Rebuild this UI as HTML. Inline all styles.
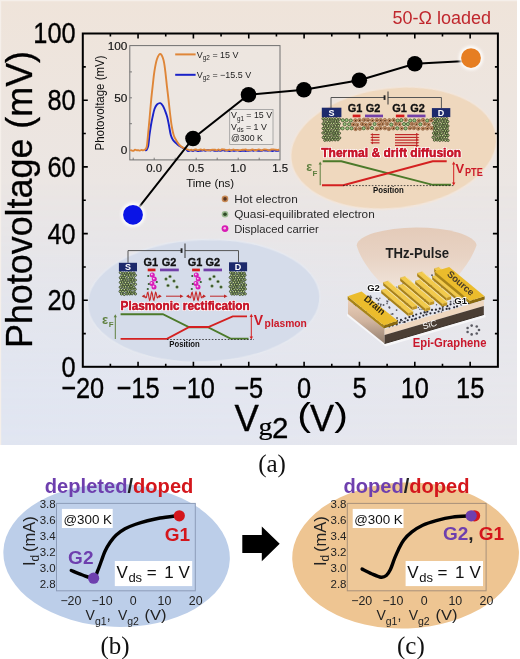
<!DOCTYPE html>
<html><head><meta charset="utf-8"><title>Figure</title>
<style>html,body{margin:0;padding:0;background:#fff;}svg{display:block;}</style></head>
<body><svg width="520" height="659" viewBox="0 0 520 659">
<rect width="520" height="659" fill="#fff"/>
<defs>
<linearGradient id="bgA" x1="0" y1="0" x2="0" y2="1">
 <stop offset="0" stop-color="#efe4da"/><stop offset="0.45" stop-color="#ebe6e4"/><stop offset="1" stop-color="#e3e7f1"/>
</linearGradient>
<radialGradient id="tanE" cx="0.5" cy="0.5" r="0.5">
 <stop offset="0" stop-color="#edd5b9"/><stop offset="0.8" stop-color="#eed8bf"/><stop offset="1" stop-color="#efdfcf"/>
</radialGradient>
<radialGradient id="bluE" cx="0.5" cy="0.5" r="0.5">
 <stop offset="0" stop-color="#d1daea"/><stop offset="0.85" stop-color="#d4dcea"/><stop offset="1" stop-color="#dde1ec"/>
</radialGradient>
<linearGradient id="cone" x1="0" y1="0" x2="0" y2="1">
 <stop offset="0" stop-color="#e4d0c2"/><stop offset="1" stop-color="#ead8ca"/>
</linearGradient>
<linearGradient id="gold" x1="0" y1="0" x2="1" y2="1">
 <stop offset="0" stop-color="#f0cc40"/><stop offset="1" stop-color="#d9a820"/>
</linearGradient>
<filter id="blur1" x="-10%" y="-10%" width="120%" height="120%"><feGaussianBlur stdDeviation="1.5"/></filter>
<filter id="blur05" x="-10%" y="-10%" width="120%" height="120%"><feGaussianBlur stdDeviation="0.6"/></filter>
<filter id="halo" x="-50%" y="-50%" width="200%" height="200%"><feGaussianBlur stdDeviation="1.5"/></filter>
</defs>
<linearGradient id="hB" x1="0" y1="0" x2="1" y2="0"><stop offset="0" stop-color="#e0e5f1"/><stop offset="0.45" stop-color="#e3e6f0"/><stop offset="1" stop-color="#e8e7eb"/></linearGradient>
<linearGradient id="vM" x1="0" y1="0" x2="0" y2="1"><stop offset="0" stop-color="#000"/><stop offset="1" stop-color="#fff"/></linearGradient>
<mask id="mB"><rect x="0" y="180" width="517" height="265" fill="url(#vM)"/></mask>
<rect x="0" y="0" width="517" height="445" fill="url(#bgA)"/>
<rect x="0" y="180" width="517" height="265" fill="url(#hB)" mask="url(#mB)"/>
<path d="M0.6 445 V0.6 H517" fill="none" stroke="#f5efea" stroke-width="1.2"/>
<ellipse cx="393.7" cy="148.1" rx="103.5" ry="60.3" transform="rotate(-6.7 393.7 148.1)" fill="#efd8be" stroke="#f2e6dc" stroke-width="1.5" filter="url(#blur05)"/>
<ellipse cx="203.8" cy="300.7" rx="116.3" ry="61.3" transform="rotate(-2.1 203.8 300.7)" fill="#d5dcea" stroke="#e6e9f0" stroke-width="1.5" filter="url(#blur05)"/>
<path d="M331 108 V97.5 H384 M388 97.5 H441.4 V108.1" fill="none" stroke="#555" stroke-width="1"/>
<rect x="383.6" y="95.3" width="1.9" height="4.6" fill="#222"/>
<line x1="388" y1="91.5" x2="388" y2="104.5" stroke="#333" stroke-width="1"/>
<circle cx="323.08" cy="118.66" r="1.15" fill="#c2d890" stroke="#1e2e12" stroke-width="0.75"/>
<circle cx="326.01" cy="118.6" r="1.15" fill="#c2d890" stroke="#1e2e12" stroke-width="0.75"/>
<circle cx="328.63" cy="118.81" r="1.15" fill="#c2d890" stroke="#1e2e12" stroke-width="0.75"/>
<circle cx="330.99" cy="118.91" r="1.15" fill="#c2d890" stroke="#1e2e12" stroke-width="0.75"/>
<circle cx="333.68" cy="118.85" r="1.15" fill="#c2d890" stroke="#1e2e12" stroke-width="0.75"/>
<circle cx="336.4" cy="118.61" r="1.15" fill="#c2d890" stroke="#1e2e12" stroke-width="0.75"/>
<circle cx="339.35" cy="119.13" r="1.15" fill="#c2d890" stroke="#1e2e12" stroke-width="0.75"/>
<circle cx="324.29" cy="121.06" r="1.15" fill="#c2d890" stroke="#1e2e12" stroke-width="0.75"/>
<circle cx="327.34" cy="121.56" r="1.15" fill="#c2d890" stroke="#1e2e12" stroke-width="0.75"/>
<circle cx="330" cy="121.18" r="1.15" fill="#c2d890" stroke="#1e2e12" stroke-width="0.75"/>
<circle cx="332.98" cy="120.93" r="1.15" fill="#c2d890" stroke="#1e2e12" stroke-width="0.75"/>
<circle cx="335.6" cy="121.1" r="1.15" fill="#c2d890" stroke="#1e2e12" stroke-width="0.75"/>
<circle cx="337.8" cy="120.98" r="1.15" fill="#c2d890" stroke="#1e2e12" stroke-width="0.75"/>
<circle cx="323.07" cy="123.82" r="1.15" fill="#c2d890" stroke="#1e2e12" stroke-width="0.75"/>
<circle cx="325.68" cy="123.66" r="1.15" fill="#c2d890" stroke="#1e2e12" stroke-width="0.75"/>
<circle cx="328.7" cy="123.51" r="1.15" fill="#c2d890" stroke="#1e2e12" stroke-width="0.75"/>
<circle cx="331.33" cy="123.29" r="1.15" fill="#c2d890" stroke="#1e2e12" stroke-width="0.75"/>
<circle cx="333.69" cy="123.39" r="1.15" fill="#c2d890" stroke="#1e2e12" stroke-width="0.75"/>
<circle cx="336.83" cy="123.55" r="1.15" fill="#c2d890" stroke="#1e2e12" stroke-width="0.75"/>
<circle cx="339.27" cy="123.66" r="1.15" fill="#c2d890" stroke="#1e2e12" stroke-width="0.75"/>
<circle cx="324.52" cy="125.81" r="1.15" fill="#c2d890" stroke="#1e2e12" stroke-width="0.75"/>
<circle cx="327.46" cy="126.09" r="1.15" fill="#c2d890" stroke="#1e2e12" stroke-width="0.75"/>
<circle cx="329.77" cy="126" r="1.15" fill="#c2d890" stroke="#1e2e12" stroke-width="0.75"/>
<circle cx="332.67" cy="126.21" r="1.15" fill="#c2d890" stroke="#1e2e12" stroke-width="0.75"/>
<circle cx="335.51" cy="125.8" r="1.15" fill="#c2d890" stroke="#1e2e12" stroke-width="0.75"/>
<circle cx="338.39" cy="125.68" r="1.15" fill="#c2d890" stroke="#1e2e12" stroke-width="0.75"/>
<circle cx="323.14" cy="128.48" r="1.15" fill="#c2d890" stroke="#1e2e12" stroke-width="0.75"/>
<circle cx="325.66" cy="128.29" r="1.15" fill="#c2d890" stroke="#1e2e12" stroke-width="0.75"/>
<circle cx="328.28" cy="128.41" r="1.15" fill="#c2d890" stroke="#1e2e12" stroke-width="0.75"/>
<circle cx="331.49" cy="128.35" r="1.15" fill="#c2d890" stroke="#1e2e12" stroke-width="0.75"/>
<circle cx="334.26" cy="128.17" r="1.15" fill="#c2d890" stroke="#1e2e12" stroke-width="0.75"/>
<circle cx="336.84" cy="128.36" r="1.15" fill="#c2d890" stroke="#1e2e12" stroke-width="0.75"/>
<circle cx="339.46" cy="128.27" r="1.15" fill="#c2d890" stroke="#1e2e12" stroke-width="0.75"/>
<circle cx="324.79" cy="130.96" r="1.15" fill="#c2d890" stroke="#1e2e12" stroke-width="0.75"/>
<circle cx="327.23" cy="130.76" r="1.15" fill="#c2d890" stroke="#1e2e12" stroke-width="0.75"/>
<circle cx="329.64" cy="130.79" r="1.15" fill="#c2d890" stroke="#1e2e12" stroke-width="0.75"/>
<circle cx="332.75" cy="130.99" r="1.15" fill="#c2d890" stroke="#1e2e12" stroke-width="0.75"/>
<circle cx="335.58" cy="130.49" r="1.15" fill="#c2d890" stroke="#1e2e12" stroke-width="0.75"/>
<circle cx="337.97" cy="130.76" r="1.15" fill="#c2d890" stroke="#1e2e12" stroke-width="0.75"/>
<circle cx="322.87" cy="132.97" r="1.15" fill="#c2d890" stroke="#1e2e12" stroke-width="0.75"/>
<circle cx="325.67" cy="132.73" r="1.15" fill="#c2d890" stroke="#1e2e12" stroke-width="0.75"/>
<circle cx="328.29" cy="133.18" r="1.15" fill="#c2d890" stroke="#1e2e12" stroke-width="0.75"/>
<circle cx="331.04" cy="132.82" r="1.15" fill="#c2d890" stroke="#1e2e12" stroke-width="0.75"/>
<circle cx="333.92" cy="133.25" r="1.15" fill="#c2d890" stroke="#1e2e12" stroke-width="0.75"/>
<circle cx="336.41" cy="132.96" r="1.15" fill="#c2d890" stroke="#1e2e12" stroke-width="0.75"/>
<circle cx="339.43" cy="133.26" r="1.15" fill="#c2d890" stroke="#1e2e12" stroke-width="0.75"/>
<circle cx="324.77" cy="135.6" r="1.15" fill="#c2d890" stroke="#1e2e12" stroke-width="0.75"/>
<circle cx="327.09" cy="135.28" r="1.15" fill="#c2d890" stroke="#1e2e12" stroke-width="0.75"/>
<circle cx="329.85" cy="135.61" r="1.15" fill="#c2d890" stroke="#1e2e12" stroke-width="0.75"/>
<circle cx="332.97" cy="135.1" r="1.15" fill="#c2d890" stroke="#1e2e12" stroke-width="0.75"/>
<circle cx="335.12" cy="135.16" r="1.15" fill="#c2d890" stroke="#1e2e12" stroke-width="0.75"/>
<circle cx="337.86" cy="135.33" r="1.15" fill="#c2d890" stroke="#1e2e12" stroke-width="0.75"/>
<circle cx="323.26" cy="137.53" r="1.15" fill="#c2d890" stroke="#1e2e12" stroke-width="0.75"/>
<circle cx="325.55" cy="137.64" r="1.15" fill="#c2d890" stroke="#1e2e12" stroke-width="0.75"/>
<circle cx="328.51" cy="137.74" r="1.15" fill="#c2d890" stroke="#1e2e12" stroke-width="0.75"/>
<circle cx="331.62" cy="137.83" r="1.15" fill="#c2d890" stroke="#1e2e12" stroke-width="0.75"/>
<circle cx="334.01" cy="137.77" r="1.15" fill="#c2d890" stroke="#1e2e12" stroke-width="0.75"/>
<circle cx="336.82" cy="137.38" r="1.15" fill="#c2d890" stroke="#1e2e12" stroke-width="0.75"/>
<circle cx="339.68" cy="137.89" r="1.15" fill="#c2d890" stroke="#1e2e12" stroke-width="0.75"/>
<circle cx="324.81" cy="140.25" r="1.15" fill="#c2d890" stroke="#1e2e12" stroke-width="0.75"/>
<circle cx="327.17" cy="139.97" r="1.15" fill="#c2d890" stroke="#1e2e12" stroke-width="0.75"/>
<circle cx="329.67" cy="140.14" r="1.15" fill="#c2d890" stroke="#1e2e12" stroke-width="0.75"/>
<circle cx="332.34" cy="139.74" r="1.15" fill="#c2d890" stroke="#1e2e12" stroke-width="0.75"/>
<circle cx="335.15" cy="139.8" r="1.15" fill="#c2d890" stroke="#1e2e12" stroke-width="0.75"/>
<circle cx="337.94" cy="139.73" r="1.15" fill="#c2d890" stroke="#1e2e12" stroke-width="0.75"/>
<circle cx="432.95" cy="118.66" r="1.15" fill="#c2d890" stroke="#1e2e12" stroke-width="0.75"/>
<circle cx="435.72" cy="118.8" r="1.15" fill="#c2d890" stroke="#1e2e12" stroke-width="0.75"/>
<circle cx="438.37" cy="119.16" r="1.15" fill="#c2d890" stroke="#1e2e12" stroke-width="0.75"/>
<circle cx="441.48" cy="118.65" r="1.15" fill="#c2d890" stroke="#1e2e12" stroke-width="0.75"/>
<circle cx="443.93" cy="118.79" r="1.15" fill="#c2d890" stroke="#1e2e12" stroke-width="0.75"/>
<circle cx="446.7" cy="118.64" r="1.15" fill="#c2d890" stroke="#1e2e12" stroke-width="0.75"/>
<circle cx="434.89" cy="121.59" r="1.15" fill="#c2d890" stroke="#1e2e12" stroke-width="0.75"/>
<circle cx="437.33" cy="121.24" r="1.15" fill="#c2d890" stroke="#1e2e12" stroke-width="0.75"/>
<circle cx="439.76" cy="120.97" r="1.15" fill="#c2d890" stroke="#1e2e12" stroke-width="0.75"/>
<circle cx="442.64" cy="121.08" r="1.15" fill="#c2d890" stroke="#1e2e12" stroke-width="0.75"/>
<circle cx="445.68" cy="121.01" r="1.15" fill="#c2d890" stroke="#1e2e12" stroke-width="0.75"/>
<circle cx="447.82" cy="121.56" r="1.15" fill="#c2d890" stroke="#1e2e12" stroke-width="0.75"/>
<circle cx="433.32" cy="123.35" r="1.15" fill="#c2d890" stroke="#1e2e12" stroke-width="0.75"/>
<circle cx="436.03" cy="123.27" r="1.15" fill="#c2d890" stroke="#1e2e12" stroke-width="0.75"/>
<circle cx="438.72" cy="123.93" r="1.15" fill="#c2d890" stroke="#1e2e12" stroke-width="0.75"/>
<circle cx="441.65" cy="123.74" r="1.15" fill="#c2d890" stroke="#1e2e12" stroke-width="0.75"/>
<circle cx="443.93" cy="123.5" r="1.15" fill="#c2d890" stroke="#1e2e12" stroke-width="0.75"/>
<circle cx="446.57" cy="123.79" r="1.15" fill="#c2d890" stroke="#1e2e12" stroke-width="0.75"/>
<circle cx="434.67" cy="126.14" r="1.15" fill="#c2d890" stroke="#1e2e12" stroke-width="0.75"/>
<circle cx="437.23" cy="125.75" r="1.15" fill="#c2d890" stroke="#1e2e12" stroke-width="0.75"/>
<circle cx="440.27" cy="126.29" r="1.15" fill="#c2d890" stroke="#1e2e12" stroke-width="0.75"/>
<circle cx="443" cy="126.16" r="1.15" fill="#c2d890" stroke="#1e2e12" stroke-width="0.75"/>
<circle cx="445.67" cy="126.11" r="1.15" fill="#c2d890" stroke="#1e2e12" stroke-width="0.75"/>
<circle cx="447.96" cy="125.96" r="1.15" fill="#c2d890" stroke="#1e2e12" stroke-width="0.75"/>
<circle cx="433.2" cy="127.97" r="1.15" fill="#c2d890" stroke="#1e2e12" stroke-width="0.75"/>
<circle cx="435.67" cy="128.14" r="1.15" fill="#c2d890" stroke="#1e2e12" stroke-width="0.75"/>
<circle cx="438.53" cy="128.43" r="1.15" fill="#c2d890" stroke="#1e2e12" stroke-width="0.75"/>
<circle cx="441.72" cy="128.26" r="1.15" fill="#c2d890" stroke="#1e2e12" stroke-width="0.75"/>
<circle cx="444.41" cy="128.64" r="1.15" fill="#c2d890" stroke="#1e2e12" stroke-width="0.75"/>
<circle cx="447.12" cy="128.2" r="1.15" fill="#c2d890" stroke="#1e2e12" stroke-width="0.75"/>
<circle cx="434.45" cy="130.45" r="1.15" fill="#c2d890" stroke="#1e2e12" stroke-width="0.75"/>
<circle cx="437.14" cy="130.44" r="1.15" fill="#c2d890" stroke="#1e2e12" stroke-width="0.75"/>
<circle cx="440.14" cy="130.93" r="1.15" fill="#c2d890" stroke="#1e2e12" stroke-width="0.75"/>
<circle cx="442.99" cy="130.63" r="1.15" fill="#c2d890" stroke="#1e2e12" stroke-width="0.75"/>
<circle cx="445.56" cy="130.85" r="1.15" fill="#c2d890" stroke="#1e2e12" stroke-width="0.75"/>
<circle cx="447.86" cy="130.76" r="1.15" fill="#c2d890" stroke="#1e2e12" stroke-width="0.75"/>
<circle cx="433.59" cy="133.19" r="1.15" fill="#c2d890" stroke="#1e2e12" stroke-width="0.75"/>
<circle cx="436.18" cy="132.98" r="1.15" fill="#c2d890" stroke="#1e2e12" stroke-width="0.75"/>
<circle cx="438.47" cy="133.2" r="1.15" fill="#c2d890" stroke="#1e2e12" stroke-width="0.75"/>
<circle cx="441.28" cy="133.2" r="1.15" fill="#c2d890" stroke="#1e2e12" stroke-width="0.75"/>
<circle cx="444.43" cy="132.92" r="1.15" fill="#c2d890" stroke="#1e2e12" stroke-width="0.75"/>
<circle cx="446.73" cy="133.31" r="1.15" fill="#c2d890" stroke="#1e2e12" stroke-width="0.75"/>
<circle cx="434.81" cy="135.11" r="1.15" fill="#c2d890" stroke="#1e2e12" stroke-width="0.75"/>
<circle cx="437.09" cy="135.1" r="1.15" fill="#c2d890" stroke="#1e2e12" stroke-width="0.75"/>
<circle cx="440.33" cy="135.56" r="1.15" fill="#c2d890" stroke="#1e2e12" stroke-width="0.75"/>
<circle cx="442.5" cy="135.57" r="1.15" fill="#c2d890" stroke="#1e2e12" stroke-width="0.75"/>
<circle cx="445.79" cy="135.45" r="1.15" fill="#c2d890" stroke="#1e2e12" stroke-width="0.75"/>
<circle cx="448.05" cy="135.38" r="1.15" fill="#c2d890" stroke="#1e2e12" stroke-width="0.75"/>
<circle cx="433.04" cy="137.35" r="1.15" fill="#c2d890" stroke="#1e2e12" stroke-width="0.75"/>
<circle cx="436.33" cy="137.8" r="1.15" fill="#c2d890" stroke="#1e2e12" stroke-width="0.75"/>
<circle cx="438.72" cy="138" r="1.15" fill="#c2d890" stroke="#1e2e12" stroke-width="0.75"/>
<circle cx="441.35" cy="137.95" r="1.15" fill="#c2d890" stroke="#1e2e12" stroke-width="0.75"/>
<circle cx="444.33" cy="137.49" r="1.15" fill="#c2d890" stroke="#1e2e12" stroke-width="0.75"/>
<circle cx="446.63" cy="137.55" r="1.15" fill="#c2d890" stroke="#1e2e12" stroke-width="0.75"/>
<circle cx="434.47" cy="140.1" r="1.15" fill="#c2d890" stroke="#1e2e12" stroke-width="0.75"/>
<circle cx="437.18" cy="139.98" r="1.15" fill="#c2d890" stroke="#1e2e12" stroke-width="0.75"/>
<circle cx="439.79" cy="140.33" r="1.15" fill="#c2d890" stroke="#1e2e12" stroke-width="0.75"/>
<circle cx="442.65" cy="140.01" r="1.15" fill="#c2d890" stroke="#1e2e12" stroke-width="0.75"/>
<circle cx="445.51" cy="140.32" r="1.15" fill="#c2d890" stroke="#1e2e12" stroke-width="0.75"/>
<circle cx="448.09" cy="140.33" r="1.15" fill="#c2d890" stroke="#1e2e12" stroke-width="0.75"/>
<circle cx="342.8" cy="120.23" r="1.6" fill="#9cc080" stroke="#2a4a1a" stroke-width="0.7"/>
<circle cx="346.61" cy="120.14" r="1.6" fill="#9cc080" stroke="#2a4a1a" stroke-width="0.7"/>
<circle cx="350.8" cy="120.5" r="1.6" fill="#9cc080" stroke="#2a4a1a" stroke-width="0.7"/>
<circle cx="355.38" cy="120.43" r="1.8" fill="#d9a070" stroke="#7a4a28" stroke-width="0.6"/>
<circle cx="355.58" cy="120.63" r="0.8" fill="#4a2c18"/>
<circle cx="359.46" cy="120.22" r="1.8" fill="#d9a070" stroke="#7a4a28" stroke-width="0.6"/>
<circle cx="359.66" cy="120.42" r="0.8" fill="#4a2c18"/>
<circle cx="364.03" cy="119.81" r="1.8" fill="#d9a070" stroke="#7a4a28" stroke-width="0.6"/>
<circle cx="364.23" cy="120.01" r="0.8" fill="#4a2c18"/>
<circle cx="367.8" cy="119.98" r="1.8" fill="#d9a070" stroke="#7a4a28" stroke-width="0.6"/>
<circle cx="368" cy="120.18" r="0.8" fill="#4a2c18"/>
<circle cx="372.21" cy="120.26" r="1.8" fill="#d9a070" stroke="#7a4a28" stroke-width="0.6"/>
<circle cx="372.41" cy="120.46" r="0.8" fill="#4a2c18"/>
<circle cx="376.73" cy="120.14" r="1.8" fill="#d9a070" stroke="#7a4a28" stroke-width="0.6"/>
<circle cx="376.93" cy="120.34" r="0.8" fill="#4a2c18"/>
<circle cx="380.6" cy="120.21" r="1.8" fill="#d9a070" stroke="#7a4a28" stroke-width="0.6"/>
<circle cx="380.8" cy="120.41" r="0.8" fill="#4a2c18"/>
<circle cx="384.76" cy="120.23" r="1.8" fill="#d9a070" stroke="#7a4a28" stroke-width="0.6"/>
<circle cx="384.96" cy="120.43" r="0.8" fill="#4a2c18"/>
<circle cx="389.35" cy="120.4" r="1.8" fill="#d9a070" stroke="#7a4a28" stroke-width="0.6"/>
<circle cx="389.55" cy="120.6" r="0.8" fill="#4a2c18"/>
<circle cx="393.55" cy="119.96" r="1.8" fill="#d9a070" stroke="#7a4a28" stroke-width="0.6"/>
<circle cx="393.75" cy="120.16" r="0.8" fill="#4a2c18"/>
<circle cx="397.75" cy="120.54" r="1.6" fill="#9cc080" stroke="#2a4a1a" stroke-width="0.7"/>
<circle cx="401.3" cy="120.14" r="1.6" fill="#9cc080" stroke="#2a4a1a" stroke-width="0.7"/>
<circle cx="405.59" cy="119.77" r="1.8" fill="#d9a070" stroke="#7a4a28" stroke-width="0.6"/>
<circle cx="405.79" cy="119.97" r="0.8" fill="#4a2c18"/>
<circle cx="410.23" cy="120.6" r="1.6" fill="#9cc080" stroke="#2a4a1a" stroke-width="0.7"/>
<circle cx="414.37" cy="120.36" r="1.6" fill="#9cc080" stroke="#2a4a1a" stroke-width="0.7"/>
<circle cx="418.71" cy="120.67" r="1.8" fill="#d9a070" stroke="#7a4a28" stroke-width="0.6"/>
<circle cx="418.91" cy="120.87" r="0.8" fill="#4a2c18"/>
<circle cx="422.96" cy="120.1" r="1.8" fill="#d9a070" stroke="#7a4a28" stroke-width="0.6"/>
<circle cx="423.16" cy="120.3" r="0.8" fill="#4a2c18"/>
<circle cx="427.19" cy="120.53" r="1.6" fill="#9cc080" stroke="#2a4a1a" stroke-width="0.7"/>
<circle cx="430.95" cy="120.22" r="1.8" fill="#d9a070" stroke="#7a4a28" stroke-width="0.6"/>
<circle cx="431.15" cy="120.42" r="0.8" fill="#4a2c18"/>
<circle cx="344.66" cy="124.12" r="1.6" fill="#9cc080" stroke="#2a4a1a" stroke-width="0.7"/>
<circle cx="349.14" cy="124.24" r="1.6" fill="#9cc080" stroke="#2a4a1a" stroke-width="0.7"/>
<circle cx="353.17" cy="124.42" r="1.8" fill="#d9a070" stroke="#7a4a28" stroke-width="0.6"/>
<circle cx="353.37" cy="124.62" r="0.8" fill="#4a2c18"/>
<circle cx="357.15" cy="124.79" r="1.8" fill="#d9a070" stroke="#7a4a28" stroke-width="0.6"/>
<circle cx="357.35" cy="124.99" r="0.8" fill="#4a2c18"/>
<circle cx="362.08" cy="123.9" r="1.8" fill="#d9a070" stroke="#7a4a28" stroke-width="0.6"/>
<circle cx="362.28" cy="124.1" r="0.8" fill="#4a2c18"/>
<circle cx="365.53" cy="124.58" r="1.8" fill="#d9a070" stroke="#7a4a28" stroke-width="0.6"/>
<circle cx="365.73" cy="124.78" r="0.8" fill="#4a2c18"/>
<circle cx="369.8" cy="124.22" r="1.8" fill="#d9a070" stroke="#7a4a28" stroke-width="0.6"/>
<circle cx="370" cy="124.42" r="0.8" fill="#4a2c18"/>
<circle cx="374.56" cy="124.06" r="1.6" fill="#9cc080" stroke="#2a4a1a" stroke-width="0.7"/>
<circle cx="378.84" cy="124.37" r="1.8" fill="#d9a070" stroke="#7a4a28" stroke-width="0.6"/>
<circle cx="379.04" cy="124.57" r="0.8" fill="#4a2c18"/>
<circle cx="382.37" cy="123.86" r="1.8" fill="#d9a070" stroke="#7a4a28" stroke-width="0.6"/>
<circle cx="382.57" cy="124.06" r="0.8" fill="#4a2c18"/>
<circle cx="386.84" cy="123.87" r="1.8" fill="#d9a070" stroke="#7a4a28" stroke-width="0.6"/>
<circle cx="387.04" cy="124.07" r="0.8" fill="#4a2c18"/>
<circle cx="391.21" cy="124.6" r="1.6" fill="#9cc080" stroke="#2a4a1a" stroke-width="0.7"/>
<circle cx="395.58" cy="123.87" r="1.8" fill="#d9a070" stroke="#7a4a28" stroke-width="0.6"/>
<circle cx="395.78" cy="124.07" r="0.8" fill="#4a2c18"/>
<circle cx="399.46" cy="124.14" r="1.8" fill="#d9a070" stroke="#7a4a28" stroke-width="0.6"/>
<circle cx="399.66" cy="124.34" r="0.8" fill="#4a2c18"/>
<circle cx="404.04" cy="124.07" r="1.6" fill="#9cc080" stroke="#2a4a1a" stroke-width="0.7"/>
<circle cx="407.92" cy="124.04" r="1.6" fill="#9cc080" stroke="#2a4a1a" stroke-width="0.7"/>
<circle cx="411.83" cy="123.85" r="1.8" fill="#d9a070" stroke="#7a4a28" stroke-width="0.6"/>
<circle cx="412.03" cy="124.05" r="0.8" fill="#4a2c18"/>
<circle cx="416.15" cy="124.11" r="1.8" fill="#d9a070" stroke="#7a4a28" stroke-width="0.6"/>
<circle cx="416.35" cy="124.31" r="0.8" fill="#4a2c18"/>
<circle cx="420.33" cy="124.3" r="1.6" fill="#9cc080" stroke="#2a4a1a" stroke-width="0.7"/>
<circle cx="424.58" cy="123.82" r="1.8" fill="#d9a070" stroke="#7a4a28" stroke-width="0.6"/>
<circle cx="424.78" cy="124.02" r="0.8" fill="#4a2c18"/>
<circle cx="428.51" cy="124.53" r="1.8" fill="#d9a070" stroke="#7a4a28" stroke-width="0.6"/>
<circle cx="428.71" cy="124.73" r="0.8" fill="#4a2c18"/>
<circle cx="342.55" cy="128.37" r="1.6" fill="#9cc080" stroke="#2a4a1a" stroke-width="0.7"/>
<circle cx="347.26" cy="128.33" r="1.6" fill="#9cc080" stroke="#2a4a1a" stroke-width="0.7"/>
<circle cx="351.47" cy="128.29" r="1.6" fill="#9cc080" stroke="#2a4a1a" stroke-width="0.7"/>
<circle cx="355.55" cy="128.88" r="1.8" fill="#d9a070" stroke="#7a4a28" stroke-width="0.6"/>
<circle cx="355.75" cy="129.08" r="0.8" fill="#4a2c18"/>
<circle cx="359.87" cy="128.61" r="1.8" fill="#d9a070" stroke="#7a4a28" stroke-width="0.6"/>
<circle cx="360.07" cy="128.81" r="0.8" fill="#4a2c18"/>
<circle cx="363.72" cy="128.25" r="1.6" fill="#9cc080" stroke="#2a4a1a" stroke-width="0.7"/>
<circle cx="367.7" cy="127.97" r="1.8" fill="#d9a070" stroke="#7a4a28" stroke-width="0.6"/>
<circle cx="367.9" cy="128.17" r="0.8" fill="#4a2c18"/>
<circle cx="372" cy="128.06" r="1.6" fill="#9cc080" stroke="#2a4a1a" stroke-width="0.7"/>
<circle cx="376.67" cy="128.77" r="1.8" fill="#d9a070" stroke="#7a4a28" stroke-width="0.6"/>
<circle cx="376.87" cy="128.97" r="0.8" fill="#4a2c18"/>
<circle cx="380.43" cy="128.14" r="1.8" fill="#d9a070" stroke="#7a4a28" stroke-width="0.6"/>
<circle cx="380.63" cy="128.34" r="0.8" fill="#4a2c18"/>
<circle cx="384.77" cy="128.06" r="1.8" fill="#d9a070" stroke="#7a4a28" stroke-width="0.6"/>
<circle cx="384.97" cy="128.26" r="0.8" fill="#4a2c18"/>
<circle cx="388.81" cy="128.86" r="1.8" fill="#d9a070" stroke="#7a4a28" stroke-width="0.6"/>
<circle cx="389.01" cy="129.06" r="0.8" fill="#4a2c18"/>
<circle cx="393.24" cy="128.14" r="1.8" fill="#d9a070" stroke="#7a4a28" stroke-width="0.6"/>
<circle cx="393.44" cy="128.34" r="0.8" fill="#4a2c18"/>
<circle cx="397.25" cy="128.26" r="1.6" fill="#9cc080" stroke="#2a4a1a" stroke-width="0.7"/>
<circle cx="401.51" cy="128.37" r="1.8" fill="#d9a070" stroke="#7a4a28" stroke-width="0.6"/>
<circle cx="401.71" cy="128.57" r="0.8" fill="#4a2c18"/>
<circle cx="405.56" cy="128.4" r="1.6" fill="#9cc080" stroke="#2a4a1a" stroke-width="0.7"/>
<circle cx="409.81" cy="127.99" r="1.8" fill="#d9a070" stroke="#7a4a28" stroke-width="0.6"/>
<circle cx="410.01" cy="128.19" r="0.8" fill="#4a2c18"/>
<circle cx="413.83" cy="127.92" r="1.8" fill="#d9a070" stroke="#7a4a28" stroke-width="0.6"/>
<circle cx="414.03" cy="128.12" r="0.8" fill="#4a2c18"/>
<circle cx="418.19" cy="128.49" r="1.8" fill="#d9a070" stroke="#7a4a28" stroke-width="0.6"/>
<circle cx="418.39" cy="128.69" r="0.8" fill="#4a2c18"/>
<circle cx="422.8" cy="128.56" r="1.8" fill="#d9a070" stroke="#7a4a28" stroke-width="0.6"/>
<circle cx="423" cy="128.76" r="0.8" fill="#4a2c18"/>
<circle cx="427.1" cy="128.29" r="1.8" fill="#d9a070" stroke="#7a4a28" stroke-width="0.6"/>
<circle cx="427.3" cy="128.49" r="0.8" fill="#4a2c18"/>
<circle cx="431.39" cy="128.05" r="1.8" fill="#d9a070" stroke="#7a4a28" stroke-width="0.6"/>
<circle cx="431.59" cy="128.25" r="0.8" fill="#4a2c18"/>
<rect x="321.8" y="107.7" width="19.6" height="9.5" fill="#1d2a6c"/>
<text x="331.6" y="115.6" font-family="'Liberation Sans',sans-serif" font-size="9" fill="#fff" font-weight="bold" text-anchor="middle" >S</text>
<rect x="431.9" y="108.1" width="18.4" height="9" fill="#1d2a6c"/>
<text x="441.1" y="115.5" font-family="'Liberation Sans',sans-serif" font-size="9" fill="#fff" font-weight="bold" text-anchor="middle" >D</text>
<text x="347.8" y="111.6" font-family="'Liberation Sans',sans-serif" font-size="11" fill="#111" font-weight="bold" text-anchor="start" stroke="#111" stroke-width="0.3" textLength="14.6" lengthAdjust="spacingAndGlyphs">G1</text>
<text x="365.8" y="111.6" font-family="'Liberation Sans',sans-serif" font-size="11" fill="#111" font-weight="bold" text-anchor="start" stroke="#111" stroke-width="0.3" textLength="14.6" lengthAdjust="spacingAndGlyphs">G2</text>
<text x="392.2" y="111.6" font-family="'Liberation Sans',sans-serif" font-size="11" fill="#111" font-weight="bold" text-anchor="start" stroke="#111" stroke-width="0.3" textLength="14.6" lengthAdjust="spacingAndGlyphs">G1</text>
<text x="410.2" y="111.6" font-family="'Liberation Sans',sans-serif" font-size="11" fill="#111" font-weight="bold" text-anchor="start" stroke="#111" stroke-width="0.3" textLength="14.6" lengthAdjust="spacingAndGlyphs">G2</text>
<rect x="352.7" y="114.6" width="7.8" height="2.7" fill="#d41c1c"/>
<rect x="395.9" y="114.6" width="8.5" height="2.7" fill="#d41c1c"/>
<rect x="365" y="114.6" width="18" height="2.7" fill="#7340a8"/>
<rect x="407.3" y="114.6" width="18.2" height="2.7" fill="#7340a8"/>
<line x1="372" y1="134.6" x2="379.5" y2="134.6" stroke="#c02828" stroke-width="1.2"/>
<path d="M373 133.2 L370.2 134.6 L373 136Z" fill="#c02828"/>
<line x1="372" y1="137.4" x2="379.5" y2="137.4" stroke="#c02828" stroke-width="1.2"/>
<path d="M373 136 L370.2 137.4 L373 138.8Z" fill="#c02828"/>
<line x1="372" y1="140.1" x2="379.5" y2="140.1" stroke="#c02828" stroke-width="1.2"/>
<path d="M373 138.7 L370.2 140.1 L373 141.5Z" fill="#c02828"/>
<line x1="372" y1="142.8" x2="379.5" y2="142.8" stroke="#c02828" stroke-width="1.2"/>
<path d="M373 141.4 L370.2 142.8 L373 144.2Z" fill="#c02828"/>
<line x1="395" y1="134.6" x2="417" y2="134.6" stroke="#c02828" stroke-width="1.2"/>
<path d="M416 133.1 L419.5 134.6 L416 136.1Z" fill="#c02828"/>
<line x1="395" y1="137.4" x2="417" y2="137.4" stroke="#c02828" stroke-width="1.2"/>
<path d="M416 135.9 L419.5 137.4 L416 138.9Z" fill="#c02828"/>
<line x1="395" y1="140.1" x2="417" y2="140.1" stroke="#c02828" stroke-width="1.2"/>
<path d="M416 138.6 L419.5 140.1 L416 141.6Z" fill="#c02828"/>
<line x1="395" y1="142.8" x2="417" y2="142.8" stroke="#c02828" stroke-width="1.2"/>
<path d="M416 141.3 L419.5 142.8 L416 144.3Z" fill="#c02828"/>
<line x1="395" y1="145.4" x2="417" y2="145.4" stroke="#c02828" stroke-width="1.2"/>
<path d="M416 143.9 L419.5 145.4 L416 146.9Z" fill="#c02828"/>
<text x="321.2" y="157.3" font-family="'Liberation Sans',sans-serif" font-size="13.2" fill="#c8182c" font-weight="bold" text-anchor="start" stroke="#fff" stroke-width="2.2" paint-order="stroke" stroke-linejoin="round" textLength="140" lengthAdjust="spacingAndGlyphs">Thermal &amp; drift diffusion</text>
<text x="321.2" y="157.3" font-family="'Liberation Sans',sans-serif" font-size="13.2" fill="#c8182c" font-weight="bold" text-anchor="start" stroke="#c8182c" stroke-width="0.35" textLength="140" lengthAdjust="spacingAndGlyphs">Thermal &amp; drift diffusion</text>
<polyline points="322.7,161.3 341.3,161.3 432.7,184.8 451,184.8" fill="none" stroke="#4c7a2a" stroke-width="1.9"/>
<polyline points="322,185.2 343.3,185.2 432.7,161.3 446.7,161.3" fill="none" stroke="#d42020" stroke-width="1.9"/>
<line x1="343" y1="185.6" x2="455" y2="185.6" stroke="#222" stroke-width="0.8" stroke-dasharray="1.6,1.6"/>
<line x1="320.2" y1="185.2" x2="320.2" y2="163.5" stroke="#5f8040" stroke-width="1"/>
<path d="M318.6 164.5 L320.2 161.5 L321.8 164.5Z" fill="#5f8040"/>
<text x="306.2" y="171" font-family="'Liberation Sans',sans-serif" font-size="12.5" fill="#5f8040" font-weight="bold" text-anchor="start" >ε</text>
<text x="312.4" y="175.6" font-family="'Liberation Sans',sans-serif" font-size="8" fill="#5f8040" font-weight="bold" text-anchor="start" >F</text>
<text x="388.4" y="192.6" font-family="'Liberation Sans',sans-serif" font-size="8.6" fill="#111" font-weight="bold" text-anchor="middle" textLength="30.8" lengthAdjust="spacingAndGlyphs">Position</text>
<line x1="453.7" y1="163.5" x2="453.7" y2="183.5" stroke="#d42020" stroke-width="1"/>
<path d="M452 164.5 L453.7 161.5 L455.4 164.5Z M452 182.5 L453.7 185.5 L455.4 182.5Z" fill="#d42020"/>
<text x="455.6" y="172.6" font-family="'Liberation Sans',sans-serif" font-size="13" fill="#cc1a28" font-weight="bold" text-anchor="start" >V</text>
<text x="465" y="175.6" font-family="'Liberation Sans',sans-serif" font-size="10" fill="#cc1a28" font-weight="bold" text-anchor="start" textLength="17.8" lengthAdjust="spacingAndGlyphs">PTE</text>
<path d="M128 262.8 V250.6 H181 M185 250.6 H238.5 V262.3" fill="none" stroke="#555" stroke-width="1"/>
<rect x="180.6" y="248.3" width="1.9" height="4.6" fill="#222"/>
<line x1="185" y1="243.5" x2="185" y2="258" stroke="#333" stroke-width="1"/>
<circle cx="120.4" cy="272.58" r="1.15" fill="#c2d890" stroke="#1e2e12" stroke-width="0.75"/>
<circle cx="123.23" cy="273.17" r="1.15" fill="#c2d890" stroke="#1e2e12" stroke-width="0.75"/>
<circle cx="125.79" cy="273.06" r="1.15" fill="#c2d890" stroke="#1e2e12" stroke-width="0.75"/>
<circle cx="128.62" cy="272.65" r="1.15" fill="#c2d890" stroke="#1e2e12" stroke-width="0.75"/>
<circle cx="131.12" cy="272.9" r="1.15" fill="#c2d890" stroke="#1e2e12" stroke-width="0.75"/>
<circle cx="134.03" cy="273.11" r="1.15" fill="#c2d890" stroke="#1e2e12" stroke-width="0.75"/>
<circle cx="121.88" cy="275.31" r="1.15" fill="#c2d890" stroke="#1e2e12" stroke-width="0.75"/>
<circle cx="124.62" cy="275.38" r="1.15" fill="#c2d890" stroke="#1e2e12" stroke-width="0.75"/>
<circle cx="127.19" cy="275.06" r="1.15" fill="#c2d890" stroke="#1e2e12" stroke-width="0.75"/>
<circle cx="129.42" cy="274.99" r="1.15" fill="#c2d890" stroke="#1e2e12" stroke-width="0.75"/>
<circle cx="132.35" cy="274.97" r="1.15" fill="#c2d890" stroke="#1e2e12" stroke-width="0.75"/>
<circle cx="135.39" cy="275.29" r="1.15" fill="#c2d890" stroke="#1e2e12" stroke-width="0.75"/>
<circle cx="120.39" cy="277.69" r="1.15" fill="#c2d890" stroke="#1e2e12" stroke-width="0.75"/>
<circle cx="123.13" cy="277.59" r="1.15" fill="#c2d890" stroke="#1e2e12" stroke-width="0.75"/>
<circle cx="125.35" cy="277.81" r="1.15" fill="#c2d890" stroke="#1e2e12" stroke-width="0.75"/>
<circle cx="128.57" cy="277.6" r="1.15" fill="#c2d890" stroke="#1e2e12" stroke-width="0.75"/>
<circle cx="131.12" cy="277.71" r="1.15" fill="#c2d890" stroke="#1e2e12" stroke-width="0.75"/>
<circle cx="133.5" cy="277.76" r="1.15" fill="#c2d890" stroke="#1e2e12" stroke-width="0.75"/>
<circle cx="121.48" cy="279.65" r="1.15" fill="#c2d890" stroke="#1e2e12" stroke-width="0.75"/>
<circle cx="124.19" cy="280.11" r="1.15" fill="#c2d890" stroke="#1e2e12" stroke-width="0.75"/>
<circle cx="126.84" cy="280.11" r="1.15" fill="#c2d890" stroke="#1e2e12" stroke-width="0.75"/>
<circle cx="130.08" cy="279.94" r="1.15" fill="#c2d890" stroke="#1e2e12" stroke-width="0.75"/>
<circle cx="132.37" cy="279.93" r="1.15" fill="#c2d890" stroke="#1e2e12" stroke-width="0.75"/>
<circle cx="135.28" cy="280.13" r="1.15" fill="#c2d890" stroke="#1e2e12" stroke-width="0.75"/>
<circle cx="120.38" cy="282.4" r="1.15" fill="#c2d890" stroke="#1e2e12" stroke-width="0.75"/>
<circle cx="122.7" cy="282.05" r="1.15" fill="#c2d890" stroke="#1e2e12" stroke-width="0.75"/>
<circle cx="125.53" cy="282.47" r="1.15" fill="#c2d890" stroke="#1e2e12" stroke-width="0.75"/>
<circle cx="128.26" cy="282.34" r="1.15" fill="#c2d890" stroke="#1e2e12" stroke-width="0.75"/>
<circle cx="130.76" cy="281.99" r="1.15" fill="#c2d890" stroke="#1e2e12" stroke-width="0.75"/>
<circle cx="133.64" cy="282.42" r="1.15" fill="#c2d890" stroke="#1e2e12" stroke-width="0.75"/>
<circle cx="121.78" cy="284.77" r="1.15" fill="#c2d890" stroke="#1e2e12" stroke-width="0.75"/>
<circle cx="124.2" cy="284.66" r="1.15" fill="#c2d890" stroke="#1e2e12" stroke-width="0.75"/>
<circle cx="127.03" cy="284.62" r="1.15" fill="#c2d890" stroke="#1e2e12" stroke-width="0.75"/>
<circle cx="129.48" cy="284.92" r="1.15" fill="#c2d890" stroke="#1e2e12" stroke-width="0.75"/>
<circle cx="132.24" cy="284.98" r="1.15" fill="#c2d890" stroke="#1e2e12" stroke-width="0.75"/>
<circle cx="135.46" cy="284.31" r="1.15" fill="#c2d890" stroke="#1e2e12" stroke-width="0.75"/>
<circle cx="120.27" cy="287.22" r="1.15" fill="#c2d890" stroke="#1e2e12" stroke-width="0.75"/>
<circle cx="123.33" cy="286.96" r="1.15" fill="#c2d890" stroke="#1e2e12" stroke-width="0.75"/>
<circle cx="125.54" cy="286.79" r="1.15" fill="#c2d890" stroke="#1e2e12" stroke-width="0.75"/>
<circle cx="128.71" cy="286.79" r="1.15" fill="#c2d890" stroke="#1e2e12" stroke-width="0.75"/>
<circle cx="131.16" cy="286.74" r="1.15" fill="#c2d890" stroke="#1e2e12" stroke-width="0.75"/>
<circle cx="133.82" cy="287.31" r="1.15" fill="#c2d890" stroke="#1e2e12" stroke-width="0.75"/>
<circle cx="121.39" cy="289.57" r="1.15" fill="#c2d890" stroke="#1e2e12" stroke-width="0.75"/>
<circle cx="124.36" cy="289.61" r="1.15" fill="#c2d890" stroke="#1e2e12" stroke-width="0.75"/>
<circle cx="127.19" cy="289.15" r="1.15" fill="#c2d890" stroke="#1e2e12" stroke-width="0.75"/>
<circle cx="130.03" cy="289.33" r="1.15" fill="#c2d890" stroke="#1e2e12" stroke-width="0.75"/>
<circle cx="132.12" cy="289" r="1.15" fill="#c2d890" stroke="#1e2e12" stroke-width="0.75"/>
<circle cx="135.14" cy="289.31" r="1.15" fill="#c2d890" stroke="#1e2e12" stroke-width="0.75"/>
<circle cx="120.16" cy="291.44" r="1.15" fill="#c2d890" stroke="#1e2e12" stroke-width="0.75"/>
<circle cx="122.89" cy="291.56" r="1.15" fill="#c2d890" stroke="#1e2e12" stroke-width="0.75"/>
<circle cx="125.94" cy="291.34" r="1.15" fill="#c2d890" stroke="#1e2e12" stroke-width="0.75"/>
<circle cx="128.58" cy="291.93" r="1.15" fill="#c2d890" stroke="#1e2e12" stroke-width="0.75"/>
<circle cx="130.83" cy="291.99" r="1.15" fill="#c2d890" stroke="#1e2e12" stroke-width="0.75"/>
<circle cx="133.95" cy="291.97" r="1.15" fill="#c2d890" stroke="#1e2e12" stroke-width="0.75"/>
<circle cx="121.5" cy="293.95" r="1.15" fill="#c2d890" stroke="#1e2e12" stroke-width="0.75"/>
<circle cx="124.28" cy="294.39" r="1.15" fill="#c2d890" stroke="#1e2e12" stroke-width="0.75"/>
<circle cx="127.11" cy="293.94" r="1.15" fill="#c2d890" stroke="#1e2e12" stroke-width="0.75"/>
<circle cx="129.7" cy="293.88" r="1.15" fill="#c2d890" stroke="#1e2e12" stroke-width="0.75"/>
<circle cx="132.13" cy="293.76" r="1.15" fill="#c2d890" stroke="#1e2e12" stroke-width="0.75"/>
<circle cx="135.38" cy="293.89" r="1.15" fill="#c2d890" stroke="#1e2e12" stroke-width="0.75"/>
<circle cx="230.7" cy="272.72" r="1.15" fill="#c2d890" stroke="#1e2e12" stroke-width="0.75"/>
<circle cx="232.94" cy="272.91" r="1.15" fill="#c2d890" stroke="#1e2e12" stroke-width="0.75"/>
<circle cx="235.58" cy="272.81" r="1.15" fill="#c2d890" stroke="#1e2e12" stroke-width="0.75"/>
<circle cx="238.82" cy="273.17" r="1.15" fill="#c2d890" stroke="#1e2e12" stroke-width="0.75"/>
<circle cx="241.42" cy="272.99" r="1.15" fill="#c2d890" stroke="#1e2e12" stroke-width="0.75"/>
<circle cx="244.19" cy="273.21" r="1.15" fill="#c2d890" stroke="#1e2e12" stroke-width="0.75"/>
<circle cx="231.78" cy="275.4" r="1.15" fill="#c2d890" stroke="#1e2e12" stroke-width="0.75"/>
<circle cx="234.13" cy="275.41" r="1.15" fill="#c2d890" stroke="#1e2e12" stroke-width="0.75"/>
<circle cx="237.12" cy="275.43" r="1.15" fill="#c2d890" stroke="#1e2e12" stroke-width="0.75"/>
<circle cx="239.95" cy="275.1" r="1.15" fill="#c2d890" stroke="#1e2e12" stroke-width="0.75"/>
<circle cx="242.23" cy="275.55" r="1.15" fill="#c2d890" stroke="#1e2e12" stroke-width="0.75"/>
<circle cx="244.99" cy="275.23" r="1.15" fill="#c2d890" stroke="#1e2e12" stroke-width="0.75"/>
<circle cx="230.29" cy="277.46" r="1.15" fill="#c2d890" stroke="#1e2e12" stroke-width="0.75"/>
<circle cx="233.27" cy="277.93" r="1.15" fill="#c2d890" stroke="#1e2e12" stroke-width="0.75"/>
<circle cx="235.63" cy="277.71" r="1.15" fill="#c2d890" stroke="#1e2e12" stroke-width="0.75"/>
<circle cx="238.36" cy="277.64" r="1.15" fill="#c2d890" stroke="#1e2e12" stroke-width="0.75"/>
<circle cx="241.13" cy="277.37" r="1.15" fill="#c2d890" stroke="#1e2e12" stroke-width="0.75"/>
<circle cx="243.66" cy="277.39" r="1.15" fill="#c2d890" stroke="#1e2e12" stroke-width="0.75"/>
<circle cx="232.03" cy="279.94" r="1.15" fill="#c2d890" stroke="#1e2e12" stroke-width="0.75"/>
<circle cx="234.25" cy="280.23" r="1.15" fill="#c2d890" stroke="#1e2e12" stroke-width="0.75"/>
<circle cx="237.5" cy="279.91" r="1.15" fill="#c2d890" stroke="#1e2e12" stroke-width="0.75"/>
<circle cx="239.6" cy="279.73" r="1.15" fill="#c2d890" stroke="#1e2e12" stroke-width="0.75"/>
<circle cx="242.26" cy="279.84" r="1.15" fill="#c2d890" stroke="#1e2e12" stroke-width="0.75"/>
<circle cx="244.96" cy="279.76" r="1.15" fill="#c2d890" stroke="#1e2e12" stroke-width="0.75"/>
<circle cx="230.23" cy="282.34" r="1.15" fill="#c2d890" stroke="#1e2e12" stroke-width="0.75"/>
<circle cx="233.37" cy="282.47" r="1.15" fill="#c2d890" stroke="#1e2e12" stroke-width="0.75"/>
<circle cx="235.74" cy="282.24" r="1.15" fill="#c2d890" stroke="#1e2e12" stroke-width="0.75"/>
<circle cx="238.52" cy="282.21" r="1.15" fill="#c2d890" stroke="#1e2e12" stroke-width="0.75"/>
<circle cx="241.09" cy="281.99" r="1.15" fill="#c2d890" stroke="#1e2e12" stroke-width="0.75"/>
<circle cx="243.74" cy="282.62" r="1.15" fill="#c2d890" stroke="#1e2e12" stroke-width="0.75"/>
<circle cx="231.49" cy="284.65" r="1.15" fill="#c2d890" stroke="#1e2e12" stroke-width="0.75"/>
<circle cx="234.54" cy="284.9" r="1.15" fill="#c2d890" stroke="#1e2e12" stroke-width="0.75"/>
<circle cx="236.95" cy="284.48" r="1.15" fill="#c2d890" stroke="#1e2e12" stroke-width="0.75"/>
<circle cx="239.67" cy="284.57" r="1.15" fill="#c2d890" stroke="#1e2e12" stroke-width="0.75"/>
<circle cx="242.51" cy="284.96" r="1.15" fill="#c2d890" stroke="#1e2e12" stroke-width="0.75"/>
<circle cx="245.49" cy="284.91" r="1.15" fill="#c2d890" stroke="#1e2e12" stroke-width="0.75"/>
<circle cx="230.07" cy="286.67" r="1.15" fill="#c2d890" stroke="#1e2e12" stroke-width="0.75"/>
<circle cx="233.25" cy="287.27" r="1.15" fill="#c2d890" stroke="#1e2e12" stroke-width="0.75"/>
<circle cx="235.78" cy="287.06" r="1.15" fill="#c2d890" stroke="#1e2e12" stroke-width="0.75"/>
<circle cx="238.15" cy="286.92" r="1.15" fill="#c2d890" stroke="#1e2e12" stroke-width="0.75"/>
<circle cx="241.5" cy="287.22" r="1.15" fill="#c2d890" stroke="#1e2e12" stroke-width="0.75"/>
<circle cx="244.15" cy="287.32" r="1.15" fill="#c2d890" stroke="#1e2e12" stroke-width="0.75"/>
<circle cx="231.57" cy="289.07" r="1.15" fill="#c2d890" stroke="#1e2e12" stroke-width="0.75"/>
<circle cx="234.21" cy="289.36" r="1.15" fill="#c2d890" stroke="#1e2e12" stroke-width="0.75"/>
<circle cx="237.28" cy="289.65" r="1.15" fill="#c2d890" stroke="#1e2e12" stroke-width="0.75"/>
<circle cx="240.01" cy="289.45" r="1.15" fill="#c2d890" stroke="#1e2e12" stroke-width="0.75"/>
<circle cx="242.74" cy="289.31" r="1.15" fill="#c2d890" stroke="#1e2e12" stroke-width="0.75"/>
<circle cx="245.29" cy="289.02" r="1.15" fill="#c2d890" stroke="#1e2e12" stroke-width="0.75"/>
<circle cx="230.6" cy="291.5" r="1.15" fill="#c2d890" stroke="#1e2e12" stroke-width="0.75"/>
<circle cx="233.39" cy="291.79" r="1.15" fill="#c2d890" stroke="#1e2e12" stroke-width="0.75"/>
<circle cx="235.66" cy="291.43" r="1.15" fill="#c2d890" stroke="#1e2e12" stroke-width="0.75"/>
<circle cx="238.33" cy="291.79" r="1.15" fill="#c2d890" stroke="#1e2e12" stroke-width="0.75"/>
<circle cx="241.34" cy="291.42" r="1.15" fill="#c2d890" stroke="#1e2e12" stroke-width="0.75"/>
<circle cx="243.6" cy="291.71" r="1.15" fill="#c2d890" stroke="#1e2e12" stroke-width="0.75"/>
<circle cx="231.81" cy="293.96" r="1.15" fill="#c2d890" stroke="#1e2e12" stroke-width="0.75"/>
<circle cx="234.26" cy="294.11" r="1.15" fill="#c2d890" stroke="#1e2e12" stroke-width="0.75"/>
<circle cx="236.81" cy="293.9" r="1.15" fill="#c2d890" stroke="#1e2e12" stroke-width="0.75"/>
<circle cx="239.82" cy="294.36" r="1.15" fill="#c2d890" stroke="#1e2e12" stroke-width="0.75"/>
<circle cx="242.65" cy="294.31" r="1.15" fill="#c2d890" stroke="#1e2e12" stroke-width="0.75"/>
<circle cx="245.23" cy="293.86" r="1.15" fill="#c2d890" stroke="#1e2e12" stroke-width="0.75"/>
<rect x="118.9" y="262.8" width="18.1" height="8.5" fill="#1d2a6c"/>
<text x="127.95" y="269.7" font-family="'Liberation Sans',sans-serif" font-size="9" fill="#fff" font-weight="bold" text-anchor="middle" >S</text>
<rect x="229" y="262.3" width="18.1" height="8.9" fill="#1d2a6c"/>
<text x="238.05" y="269.6" font-family="'Liberation Sans',sans-serif" font-size="9" fill="#fff" font-weight="bold" text-anchor="middle" >D</text>
<text x="143.4" y="265.9" font-family="'Liberation Sans',sans-serif" font-size="11" fill="#111" font-weight="bold" text-anchor="start" stroke="#111" stroke-width="0.3" textLength="14.6" lengthAdjust="spacingAndGlyphs">G1</text>
<text x="161.8" y="265.9" font-family="'Liberation Sans',sans-serif" font-size="11" fill="#111" font-weight="bold" text-anchor="start" stroke="#111" stroke-width="0.3" textLength="14.6" lengthAdjust="spacingAndGlyphs">G2</text>
<text x="187.8" y="265.9" font-family="'Liberation Sans',sans-serif" font-size="11" fill="#111" font-weight="bold" text-anchor="start" stroke="#111" stroke-width="0.3" textLength="14.6" lengthAdjust="spacingAndGlyphs">G1</text>
<text x="205.6" y="265.9" font-family="'Liberation Sans',sans-serif" font-size="11" fill="#111" font-weight="bold" text-anchor="start" stroke="#111" stroke-width="0.3" textLength="14.6" lengthAdjust="spacingAndGlyphs">G2</text>
<rect x="147.7" y="268.6" width="7.8" height="2.7" fill="#d41c1c"/>
<rect x="192.1" y="268.6" width="7.8" height="2.7" fill="#d41c1c"/>
<rect x="160" y="268.6" width="18.8" height="2.7" fill="#7340a8"/>
<rect x="203.5" y="268.6" width="18.5" height="2.7" fill="#7340a8"/>
<circle cx="152.3" cy="274.9" r="2.5" fill="#d81cb8"/>
<circle cx="151.8" cy="274.4" r="0.9" fill="#f8c8f0"/>
<circle cx="154.3" cy="279.1" r="2.5" fill="#d81cb8"/>
<circle cx="153.8" cy="278.6" r="0.9" fill="#f8c8f0"/>
<circle cx="151.9" cy="283.4" r="2.5" fill="#d81cb8"/>
<circle cx="151.4" cy="282.9" r="0.9" fill="#f8c8f0"/>
<circle cx="154" cy="287" r="2.5" fill="#d81cb8"/>
<circle cx="153.5" cy="286.5" r="0.9" fill="#f8c8f0"/>
<circle cx="148.3" cy="276" r="1.1" fill="#2e5a28"/>
<circle cx="148.8" cy="284" r="1.1" fill="#2e5a28"/>
<circle cx="156.8" cy="282" r="1.1" fill="#2e5a28"/>
<circle cx="147.8" cy="289" r="1.1" fill="#2e5a28"/>
<circle cx="196.3" cy="274.9" r="2.5" fill="#d81cb8"/>
<circle cx="195.8" cy="274.4" r="0.9" fill="#f8c8f0"/>
<circle cx="198.3" cy="279.1" r="2.5" fill="#d81cb8"/>
<circle cx="197.8" cy="278.6" r="0.9" fill="#f8c8f0"/>
<circle cx="195.9" cy="283.4" r="2.5" fill="#d81cb8"/>
<circle cx="195.4" cy="282.9" r="0.9" fill="#f8c8f0"/>
<circle cx="198" cy="287" r="2.5" fill="#d81cb8"/>
<circle cx="197.5" cy="286.5" r="0.9" fill="#f8c8f0"/>
<circle cx="192.3" cy="276" r="1.1" fill="#2e5a28"/>
<circle cx="192.8" cy="284" r="1.1" fill="#2e5a28"/>
<circle cx="200.8" cy="282" r="1.1" fill="#2e5a28"/>
<circle cx="191.8" cy="289" r="1.1" fill="#2e5a28"/>
<circle cx="166" cy="279" r="1.5" fill="#2e4a22" stroke="#b8d0a0" stroke-width="0.5"/>
<circle cx="170" cy="276.5" r="1.5" fill="#2e4a22" stroke="#b8d0a0" stroke-width="0.5"/>
<circle cx="174" cy="281" r="1.5" fill="#2e4a22" stroke="#b8d0a0" stroke-width="0.5"/>
<circle cx="168" cy="285.5" r="1.5" fill="#2e4a22" stroke="#b8d0a0" stroke-width="0.5"/>
<circle cx="177" cy="287" r="1.5" fill="#2e4a22" stroke="#b8d0a0" stroke-width="0.5"/>
<circle cx="210" cy="279" r="1.5" fill="#2e4a22" stroke="#b8d0a0" stroke-width="0.5"/>
<circle cx="214" cy="276.5" r="1.5" fill="#2e4a22" stroke="#b8d0a0" stroke-width="0.5"/>
<circle cx="218" cy="281.5" r="1.5" fill="#2e4a22" stroke="#b8d0a0" stroke-width="0.5"/>
<circle cx="212" cy="286" r="1.5" fill="#2e4a22" stroke="#b8d0a0" stroke-width="0.5"/>
<circle cx="221" cy="287" r="1.5" fill="#2e4a22" stroke="#b8d0a0" stroke-width="0.5"/>
<polyline points="142.7,296.2 144.7,296.2 145.24,296.81 145.78,297.8 146.33,297.55 146.87,295.45 147.41,292.82 147.95,292.27 148.5,294.71 149.04,298.15 149.58,300.28 150.12,299.66 150.67,296.71 151.21,293.41 151.75,292 152.29,293.41 152.83,296.71 153.38,299.66 153.92,300.28 154.46,298.15 155,294.71 155.55,292.27 156.09,292.82 156.63,295.45 157.17,297.55 157.72,297.8 158.26,296.81 158.8,296.2 160.8,296.2" fill="none" stroke="#c82828" stroke-width="1.1"/>
<path d="M144.7 294.4 L141.7 296.2 L144.7 298Z M158.8 294.4 L161.8 296.2 L158.8 298Z" fill="#c02828"/>
<polyline points="187,296.2 189,296.2 189.54,296.81 190.08,297.8 190.62,297.55 191.15,295.45 191.69,292.82 192.23,292.27 192.77,294.71 193.31,298.15 193.85,300.28 194.38,299.66 194.92,296.71 195.46,293.41 196,292 196.54,293.41 197.08,296.71 197.62,299.66 198.15,300.28 198.69,298.15 199.23,294.71 199.77,292.27 200.31,292.82 200.85,295.45 201.38,297.55 201.92,297.8 202.46,296.81 203,296.2 205,296.2" fill="none" stroke="#c82828" stroke-width="1.1"/>
<path d="M189 294.4 L186 296.2 L189 298Z M203 294.4 L206 296.2 L203 298Z" fill="#c02828"/>
<line x1="166" y1="296.2" x2="181.5" y2="296.2" stroke="#c02828" stroke-width="1"/>
<path d="M180 294.4 L183.5 296.2 L180 298Z" fill="#c02828"/>
<line x1="210" y1="296.2" x2="225.5" y2="296.2" stroke="#c02828" stroke-width="1"/>
<path d="M224 294.4 L227.5 296.2 L224 298Z" fill="#c02828"/>
<text x="120.6" y="309.8" font-family="'Liberation Sans',sans-serif" font-size="13" fill="#c8182c" font-weight="bold" text-anchor="start" stroke="#fff" stroke-width="2" paint-order="stroke" stroke-linejoin="round" textLength="129" lengthAdjust="spacingAndGlyphs">Plasmonic rectification</text>
<text x="120.6" y="309.8" font-family="'Liberation Sans',sans-serif" font-size="13" fill="#c8182c" font-weight="bold" text-anchor="start" stroke="#c8182c" stroke-width="0.35" textLength="129" lengthAdjust="spacingAndGlyphs">Plasmonic rectification</text>
<polyline points="120.6,314.2 162.9,314.2 189.3,327.4 208.4,327.4 230.5,338.6 248.5,338.6" fill="none" stroke="#4c7a2a" stroke-width="1.9"/>
<polyline points="120.6,338.9 167,338.9 189.3,327 208.4,327 232.7,316.4 247,316.4" fill="none" stroke="#d42020" stroke-width="1.9"/>
<line x1="167" y1="339.5" x2="254" y2="339.5" stroke="#222" stroke-width="0.8" stroke-dasharray="1.6,1.6"/>
<line x1="115.3" y1="339" x2="115.3" y2="316.3" stroke="#5f8040" stroke-width="1"/>
<path d="M113.7 317.3 L115.3 314.3 L116.9 317.3Z" fill="#5f8040"/>
<text x="102" y="323.6" font-family="'Liberation Sans',sans-serif" font-size="13" fill="#5f8040" font-weight="bold" text-anchor="start" >ε</text>
<text x="108.8" y="327.2" font-family="'Liberation Sans',sans-serif" font-size="8" fill="#5f8040" font-weight="bold" text-anchor="start" >F</text>
<text x="184.5" y="347.3" font-family="'Liberation Sans',sans-serif" font-size="8.6" fill="#111" font-weight="bold" text-anchor="middle" textLength="30.5" lengthAdjust="spacingAndGlyphs">Position</text>
<line x1="251.3" y1="316" x2="251.3" y2="337" stroke="#d42020" stroke-width="1"/>
<path d="M249.6 317 L251.3 313.8 L253 317Z M249.6 336.5 L251.3 339.5 L253 336.5Z" fill="#d42020"/>
<text x="253.8" y="325.2" font-family="'Liberation Sans',sans-serif" font-size="14" fill="#cc1a28" font-weight="bold" text-anchor="start" >V</text>
<text x="264.6" y="327.3" font-family="'Liberation Sans',sans-serif" font-size="11.5" fill="#cc1a28" font-weight="bold" text-anchor="start" textLength="42.3" lengthAdjust="spacingAndGlyphs">plasmon</text>
<linearGradient id="coneG" x1="0" y1="0" x2="0" y2="1"><stop offset="0" stop-color="#e4cbb9"/><stop offset="0.5" stop-color="#e8d3c4"/><stop offset="1" stop-color="#efe2d8"/></linearGradient>
<path d="M356.7 245.5 A60 18.5 0 0 1 476.6 245 C473 256 466 266 458 276 C448 286 400 290 381 283 C370 272 360 258 356.7 245.5Z" fill="url(#coneG)" filter="url(#blur05)"/>
<text x="417.3" y="258" font-family="'Liberation Sans',sans-serif" font-size="14" fill="#1e1e1e" font-weight="bold" text-anchor="middle" textLength="63.5" lengthAdjust="spacingAndGlyphs">THz-Pulse</text>
<linearGradient id="lface" x1="0" y1="0" x2="0" y2="1"><stop offset="0" stop-color="#ecd0ba"/><stop offset="0.5" stop-color="#cfb39e"/><stop offset="1" stop-color="#94806f"/></linearGradient>
<polygon points="347,313.5 384.6,343.5 484.8,314.5 485.8,317 385.6,346.5 347,316" fill="#f6f6f8" />
<polygon points="348,299.5 384.6,329 384.6,343.5 348,314" fill="url(#lface)" />
<polygon points="384.6,329 483.8,300 483.8,306 384.6,335" fill="#efd7bf" />
<polygon points="384.6,335 483.8,306 483.8,314.5 384.6,343.5" fill="#4b3e34" />
<line x1="384.6" y1="343.5" x2="483.8" y2="314.5" stroke="#3a2f27" stroke-width="1"/>
<polygon points="348,299.5 384.6,329 483.8,300 447.2,270.5" fill="#e4e6ee" />
<circle cx="452.34" cy="278.93" r="0.88" fill="#55555e"/>
<circle cx="361.41" cy="307.94" r="0.8" fill="#55555e"/>
<circle cx="414.35" cy="307.22" r="0.7" fill="#55555e"/>
<circle cx="464.2" cy="292.36" r="0.69" fill="#55555e"/>
<circle cx="382.78" cy="290.7" r="0.77" fill="#55555e"/>
<circle cx="392.63" cy="313.89" r="0.92" fill="#55555e"/>
<circle cx="425.14" cy="306.66" r="0.68" fill="#55555e"/>
<circle cx="414.42" cy="319.07" r="0.93" fill="#55555e"/>
<circle cx="378.41" cy="299.89" r="0.9" fill="#55555e"/>
<circle cx="453.23" cy="280.59" r="0.8" fill="#55555e"/>
<circle cx="377.01" cy="298.55" r="0.77" fill="#55555e"/>
<circle cx="466.47" cy="291.61" r="0.66" fill="#55555e"/>
<circle cx="383.53" cy="304.93" r="0.99" fill="#55555e"/>
<circle cx="358.34" cy="302.18" r="0.62" fill="#55555e"/>
<circle cx="451.49" cy="285.06" r="0.95" fill="#55555e"/>
<circle cx="473.77" cy="292.19" r="0.97" fill="#55555e"/>
<circle cx="378.45" cy="303.83" r="0.97" fill="#55555e"/>
<circle cx="378.48" cy="320.59" r="0.87" fill="#55555e"/>
<circle cx="398.95" cy="299.83" r="0.73" fill="#55555e"/>
<circle cx="354.48" cy="304.41" r="0.71" fill="#55555e"/>
<circle cx="455.65" cy="282.16" r="0.65" fill="#55555e"/>
<circle cx="403.87" cy="321.93" r="0.74" fill="#55555e"/>
<circle cx="459.61" cy="299.9" r="0.77" fill="#55555e"/>
<circle cx="396.77" cy="287.22" r="0.75" fill="#55555e"/>
<circle cx="400.8" cy="321.03" r="0.75" fill="#55555e"/>
<circle cx="383.83" cy="325.08" r="0.76" fill="#55555e"/>
<circle cx="453.77" cy="301.22" r="0.62" fill="#55555e"/>
<circle cx="355.48" cy="298.71" r="0.97" fill="#55555e"/>
<circle cx="431.54" cy="285.41" r="0.96" fill="#55555e"/>
<circle cx="387.42" cy="301.61" r="0.98" fill="#55555e"/>
<circle cx="396.59" cy="310.1" r="0.89" fill="#55555e"/>
<circle cx="386.93" cy="300.84" r="0.6" fill="#55555e"/>
<circle cx="466.57" cy="295.21" r="0.85" fill="#55555e"/>
<circle cx="384.93" cy="326.62" r="0.69" fill="#55555e"/>
<circle cx="460.3" cy="285.77" r="0.98" fill="#55555e"/>
<circle cx="387.05" cy="303.62" r="0.77" fill="#55555e"/>
<circle cx="458.13" cy="287.14" r="0.67" fill="#55555e"/>
<circle cx="450.63" cy="301.76" r="0.93" fill="#55555e"/>
<circle cx="436.52" cy="304.69" r="0.73" fill="#55555e"/>
<circle cx="395.59" cy="298.43" r="0.91" fill="#55555e"/>
<circle cx="370.47" cy="296.11" r="0.9" fill="#55555e"/>
<circle cx="363.47" cy="304.92" r="0.61" fill="#55555e"/>
<circle cx="400.54" cy="306.35" r="0.99" fill="#55555e"/>
<circle cx="478.33" cy="296.92" r="0.71" fill="#55555e"/>
<circle cx="360.64" cy="299.18" r="0.8" fill="#55555e"/>
<circle cx="418.32" cy="307.48" r="0.69" fill="#55555e"/>
<circle cx="424.79" cy="293.81" r="0.87" fill="#55555e"/>
<circle cx="459.4" cy="297" r="0.87" fill="#55555e"/>
<circle cx="435.85" cy="278.69" r="0.72" fill="#55555e"/>
<circle cx="405.75" cy="305.41" r="0.9" fill="#55555e"/>
<circle cx="379.84" cy="298.2" r="0.7" fill="#55555e"/>
<circle cx="441.32" cy="278.38" r="0.83" fill="#55555e"/>
<circle cx="399.23" cy="297.64" r="1" fill="#55555e"/>
<circle cx="389.52" cy="307.76" r="0.92" fill="#55555e"/>
<circle cx="470.21" cy="290.04" r="0.64" fill="#55555e"/>
<circle cx="446.63" cy="289.75" r="0.94" fill="#55555e"/>
<circle cx="385.47" cy="325.3" r="0.72" fill="#55555e"/>
<circle cx="371.17" cy="297.52" r="0.99" fill="#55555e"/>
<circle cx="461.62" cy="289.73" r="0.75" fill="#55555e"/>
<circle cx="424.25" cy="312.03" r="0.7" fill="#55555e"/>
<circle cx="470.28" cy="295.02" r="0.64" fill="#55555e"/>
<circle cx="431.32" cy="299.11" r="0.69" fill="#55555e"/>
<circle cx="375.52" cy="306.28" r="0.68" fill="#55555e"/>
<circle cx="416.79" cy="289.64" r="0.86" fill="#55555e"/>
<circle cx="356.57" cy="305.17" r="0.73" fill="#55555e"/>
<circle cx="391.19" cy="314.14" r="0.72" fill="#55555e"/>
<circle cx="434.34" cy="282.44" r="0.82" fill="#55555e"/>
<circle cx="360.37" cy="298.43" r="0.76" fill="#55555e"/>
<circle cx="431.54" cy="297.19" r="0.64" fill="#55555e"/>
<circle cx="422.98" cy="284.16" r="0.76" fill="#55555e"/>
<circle cx="388.88" cy="298.94" r="0.98" fill="#55555e"/>
<circle cx="415.63" cy="292.29" r="0.74" fill="#55555e"/>
<circle cx="448.98" cy="286.72" r="1" fill="#55555e"/>
<circle cx="380.88" cy="304.51" r="0.89" fill="#55555e"/>
<circle cx="356.04" cy="305.34" r="0.96" fill="#55555e"/>
<circle cx="444.89" cy="288.21" r="0.76" fill="#55555e"/>
<circle cx="426.03" cy="312.18" r="0.67" fill="#55555e"/>
<circle cx="403.26" cy="283.94" r="0.86" fill="#55555e"/>
<circle cx="390.13" cy="323.76" r="0.85" fill="#55555e"/>
<circle cx="411.62" cy="295.81" r="0.66" fill="#55555e"/>
<circle cx="410.07" cy="292.74" r="0.97" fill="#55555e"/>
<circle cx="400.64" cy="288.48" r="0.92" fill="#55555e"/>
<circle cx="402.96" cy="322.3" r="0.65" fill="#55555e"/>
<circle cx="479.29" cy="299.03" r="0.79" fill="#55555e"/>
<circle cx="441.83" cy="274.22" r="0.76" fill="#55555e"/>
<circle cx="442.63" cy="308.18" r="0.93" fill="#55555e"/>
<circle cx="431.82" cy="281.44" r="0.69" fill="#55555e"/>
<circle cx="446.76" cy="286.89" r="0.93" fill="#55555e"/>
<circle cx="376.34" cy="298.57" r="0.76" fill="#55555e"/>
<circle cx="405.01" cy="303.65" r="0.65" fill="#55555e"/>
<circle cx="428.95" cy="285.77" r="0.96" fill="#55555e"/>
<circle cx="405.29" cy="284.4" r="0.9" fill="#55555e"/>
<circle cx="432.55" cy="276.32" r="0.65" fill="#55555e"/>
<circle cx="424.51" cy="301.23" r="0.85" fill="#55555e"/>
<circle cx="400.88" cy="296.35" r="0.83" fill="#55555e"/>
<circle cx="428.94" cy="292.95" r="0.78" fill="#55555e"/>
<circle cx="366.36" cy="311.75" r="0.85" fill="#55555e"/>
<circle cx="389.25" cy="307.12" r="0.91" fill="#55555e"/>
<circle cx="422.01" cy="309.22" r="0.67" fill="#55555e"/>
<circle cx="375.94" cy="310.35" r="0.65" fill="#55555e"/>
<circle cx="372.86" cy="309.54" r="0.78" fill="#55555e"/>
<circle cx="370.72" cy="313.37" r="0.85" fill="#55555e"/>
<circle cx="423.77" cy="280.66" r="0.91" fill="#55555e"/>
<circle cx="372.1" cy="313.02" r="0.8" fill="#55555e"/>
<circle cx="456.16" cy="283.07" r="0.65" fill="#55555e"/>
<circle cx="478.18" cy="295.9" r="0.89" fill="#55555e"/>
<circle cx="397.04" cy="317.92" r="0.99" fill="#55555e"/>
<circle cx="460.9" cy="286.27" r="0.97" fill="#55555e"/>
<circle cx="432.25" cy="281.51" r="0.97" fill="#55555e"/>
<circle cx="385.21" cy="291.26" r="0.9" fill="#55555e"/>
<circle cx="442.75" cy="278.18" r="0.71" fill="#55555e"/>
<circle cx="392.09" cy="319.4" r="0.8" fill="#55555e"/>
<circle cx="402.33" cy="320.6" r="0.71" fill="#55555e"/>
<circle cx="398.17" cy="305.17" r="0.61" fill="#55555e"/>
<circle cx="370.66" cy="300.2" r="0.97" fill="#55555e"/>
<circle cx="461.7" cy="293.58" r="0.67" fill="#55555e"/>
<circle cx="388.14" cy="319.32" r="0.81" fill="#55555e"/>
<circle cx="406.98" cy="307.84" r="0.95" fill="#55555e"/>
<circle cx="425.86" cy="299.06" r="0.95" fill="#55555e"/>
<circle cx="450.33" cy="273.79" r="0.85" fill="#55555e"/>
<circle cx="441.56" cy="288" r="0.71" fill="#55555e"/>
<circle cx="441.53" cy="311.98" r="0.74" fill="#55555e"/>
<circle cx="419.86" cy="309.23" r="0.67" fill="#55555e"/>
<circle cx="380.01" cy="320.04" r="0.93" fill="#55555e"/>
<circle cx="420.7" cy="288.44" r="0.99" fill="#55555e"/>
<circle cx="435.28" cy="297.54" r="0.73" fill="#55555e"/>
<circle cx="351.42" cy="298.57" r="0.66" fill="#55555e"/>
<circle cx="413.43" cy="305.14" r="0.81" fill="#55555e"/>
<circle cx="393.87" cy="322.09" r="0.69" fill="#55555e"/>
<circle cx="374.11" cy="318.12" r="0.6" fill="#55555e"/>
<circle cx="371.54" cy="306.89" r="0.74" fill="#55555e"/>
<circle cx="414.1" cy="289.19" r="0.84" fill="#55555e"/>
<circle cx="417.37" cy="287.43" r="0.79" fill="#55555e"/>
<circle cx="445.84" cy="276.31" r="0.7" fill="#55555e"/>
<circle cx="362.97" cy="301.13" r="0.86" fill="#55555e"/>
<circle cx="457.48" cy="302.52" r="0.76" fill="#55555e"/>
<circle cx="358.81" cy="306.96" r="0.86" fill="#55555e"/>
<circle cx="403.33" cy="305.93" r="0.86" fill="#55555e"/>
<circle cx="457.21" cy="285.41" r="0.89" fill="#55555e"/>
<circle cx="446.72" cy="280.63" r="0.62" fill="#55555e"/>
<circle cx="407.73" cy="303.41" r="0.7" fill="#55555e"/>
<circle cx="427.4" cy="278.63" r="0.6" fill="#55555e"/>
<circle cx="461.5" cy="288.47" r="0.66" fill="#55555e"/>
<circle cx="415.62" cy="287.75" r="0.8" fill="#55555e"/>
<circle cx="452.17" cy="294.84" r="0.67" fill="#55555e"/>
<circle cx="389.11" cy="299.92" r="0.62" fill="#55555e"/>
<circle cx="458.22" cy="303.03" r="0.89" fill="#55555e"/>
<circle cx="432" cy="275.2" r="0.9" fill="#55555e"/>
<circle cx="438.61" cy="291.71" r="0.78" fill="#55555e"/>
<circle cx="366.71" cy="303.11" r="0.69" fill="#55555e"/>
<circle cx="384.49" cy="327.06" r="1.1" fill="#2a2a34"/>
<circle cx="382.42" cy="325.14" r="1.1" fill="#2a2a34"/>
<circle cx="389.27" cy="326.4" r="1.1" fill="#2a2a34"/>
<circle cx="385.65" cy="323.85" r="1.1" fill="#2a2a34"/>
<circle cx="392.6" cy="325.38" r="1.1" fill="#2a2a34"/>
<circle cx="389.77" cy="322.39" r="1.1" fill="#2a2a34"/>
<circle cx="396.66" cy="324.47" r="1.1" fill="#2a2a34"/>
<circle cx="393.22" cy="322.01" r="1.1" fill="#2a2a34"/>
<circle cx="399.72" cy="322.51" r="1.1" fill="#2a2a34"/>
<circle cx="397.06" cy="320.73" r="1.1" fill="#2a2a34"/>
<circle cx="404.65" cy="321.98" r="1.1" fill="#2a2a34"/>
<circle cx="400.98" cy="319.78" r="1.1" fill="#2a2a34"/>
<circle cx="407.73" cy="320.26" r="1.1" fill="#2a2a34"/>
<circle cx="405.5" cy="318.37" r="1.1" fill="#2a2a34"/>
<circle cx="411.98" cy="319.65" r="1.1" fill="#2a2a34"/>
<circle cx="409.4" cy="317.06" r="1.1" fill="#2a2a34"/>
<circle cx="415.97" cy="318.58" r="1.1" fill="#2a2a34"/>
<circle cx="413.07" cy="315.9" r="1.1" fill="#2a2a34"/>
<circle cx="419.65" cy="317.31" r="1.1" fill="#2a2a34"/>
<circle cx="416.22" cy="314.52" r="1.1" fill="#2a2a34"/>
<circle cx="423.34" cy="315.6" r="1.1" fill="#2a2a34"/>
<circle cx="420.76" cy="313.32" r="1.1" fill="#2a2a34"/>
<circle cx="426.45" cy="314.52" r="1.1" fill="#2a2a34"/>
<circle cx="424.6" cy="312.45" r="1.1" fill="#2a2a34"/>
<circle cx="430.4" cy="313.31" r="1.1" fill="#2a2a34"/>
<circle cx="427.35" cy="311.75" r="1.1" fill="#2a2a34"/>
<circle cx="434.8" cy="313" r="1.1" fill="#2a2a34"/>
<circle cx="432" cy="309.88" r="1.1" fill="#2a2a34"/>
<circle cx="438.57" cy="311.48" r="1.1" fill="#2a2a34"/>
<circle cx="435.91" cy="309.67" r="1.1" fill="#2a2a34"/>
<circle cx="442.74" cy="310.01" r="1.1" fill="#2a2a34"/>
<circle cx="439.79" cy="308.67" r="1.1" fill="#2a2a34"/>
<circle cx="446.62" cy="308.94" r="1.1" fill="#2a2a34"/>
<circle cx="442.81" cy="306.59" r="1.1" fill="#2a2a34"/>
<circle cx="449.35" cy="308.72" r="1.1" fill="#2a2a34"/>
<circle cx="447.35" cy="306.1" r="1.1" fill="#2a2a34"/>
<circle cx="454.11" cy="307.34" r="1.1" fill="#2a2a34"/>
<circle cx="450.54" cy="304.35" r="1.1" fill="#2a2a34"/>
<circle cx="457.05" cy="306.38" r="1.1" fill="#2a2a34"/>
<circle cx="454.25" cy="303.49" r="1.1" fill="#2a2a34"/>
<circle cx="461.26" cy="304.38" r="1.1" fill="#2a2a34"/>
<circle cx="458.13" cy="302.33" r="1.1" fill="#2a2a34"/>
<circle cx="465.43" cy="303.68" r="1.1" fill="#2a2a34"/>
<circle cx="462.02" cy="302.04" r="1.1" fill="#2a2a34"/>
<circle cx="468.99" cy="303.15" r="1.1" fill="#2a2a34"/>
<circle cx="466.2" cy="299.8" r="1.1" fill="#2a2a34"/>
<circle cx="472.69" cy="301.53" r="1.1" fill="#2a2a34"/>
<circle cx="470.2" cy="299.06" r="1.1" fill="#2a2a34"/>
<circle cx="476.86" cy="300.54" r="1.1" fill="#2a2a34"/>
<circle cx="473.34" cy="298.57" r="1.1" fill="#2a2a34"/>
<circle cx="479.94" cy="299.76" r="1.1" fill="#2a2a34"/>
<circle cx="477.1" cy="296.42" r="1.1" fill="#2a2a34"/>
<polygon points="383.2,282.5 412.2,307 412.2,310 383.2,285.5" fill="#a8821a" />
<polygon points="412.2,307 417.2,305.5 417.2,308.5 412.2,310" fill="#c09626" />
<polygon points="383.2,282.5 412.2,307 417.2,305.5 388.2,281" fill="#f2ca4c" stroke="#d8ac2c" stroke-width="0.4"/>
<line x1="388.2" y1="281" x2="417.2" y2="305.5" stroke="#fae49a" stroke-width="0.9"/>
<polygon points="381.2,290.2 408.2,313 408.2,316 381.2,293.2" fill="#a8821a" />
<polygon points="408.2,313 413.2,311.5 413.2,314.5 408.2,316" fill="#c09626" />
<polygon points="381.2,290.2 408.2,313 413.2,311.5 386.2,288.7" fill="#f2ca4c" stroke="#d8ac2c" stroke-width="0.4"/>
<line x1="386.2" y1="288.7" x2="413.2" y2="311.5" stroke="#fae49a" stroke-width="0.9"/>
<polygon points="400.2,277.9 429.2,302.4 429.2,305.4 400.2,280.9" fill="#a8821a" />
<polygon points="429.2,302.4 434.2,300.9 434.2,303.9 429.2,305.4" fill="#c09626" />
<polygon points="400.2,277.9 429.2,302.4 434.2,300.9 405.2,276.4" fill="#f2ca4c" stroke="#d8ac2c" stroke-width="0.4"/>
<line x1="405.2" y1="276.4" x2="434.2" y2="300.9" stroke="#fae49a" stroke-width="0.9"/>
<polygon points="398.2,285.6 425.2,308.4 425.2,311.4 398.2,288.6" fill="#a8821a" />
<polygon points="425.2,308.4 430.2,306.9 430.2,309.9 425.2,311.4" fill="#c09626" />
<polygon points="398.2,285.6 425.2,308.4 430.2,306.9 403.2,284.1" fill="#f2ca4c" stroke="#d8ac2c" stroke-width="0.4"/>
<line x1="403.2" y1="284.1" x2="430.2" y2="306.9" stroke="#fae49a" stroke-width="0.9"/>
<polygon points="417.2,273.3 446.2,297.8 446.2,300.8 417.2,276.3" fill="#a8821a" />
<polygon points="446.2,297.8 451.2,296.3 451.2,299.3 446.2,300.8" fill="#c09626" />
<polygon points="417.2,273.3 446.2,297.8 451.2,296.3 422.2,271.8" fill="#f2ca4c" stroke="#d8ac2c" stroke-width="0.4"/>
<line x1="422.2" y1="271.8" x2="451.2" y2="296.3" stroke="#fae49a" stroke-width="0.9"/>
<polygon points="415.2,281 442.2,303.8 442.2,306.8 415.2,284" fill="#a8821a" />
<polygon points="442.2,303.8 447.2,302.3 447.2,305.3 442.2,306.8" fill="#c09626" />
<polygon points="415.2,281 442.2,303.8 447.2,302.3 420.2,279.5" fill="#f2ca4c" stroke="#d8ac2c" stroke-width="0.4"/>
<line x1="420.2" y1="279.5" x2="447.2" y2="302.3" stroke="#fae49a" stroke-width="0.9"/>
<polygon points="434.2,268.7 463.2,293.2 463.2,296.2 434.2,271.7" fill="#a8821a" />
<polygon points="463.2,293.2 468.2,291.7 468.2,294.7 463.2,296.2" fill="#c09626" />
<polygon points="434.2,268.7 463.2,293.2 468.2,291.7 439.2,267.2" fill="#f2ca4c" stroke="#d8ac2c" stroke-width="0.4"/>
<line x1="439.2" y1="267.2" x2="468.2" y2="291.7" stroke="#fae49a" stroke-width="0.9"/>
<polygon points="432.2,276.4 459.2,299.2 459.2,302.2 432.2,279.4" fill="#a8821a" />
<polygon points="459.2,299.2 464.2,297.7 464.2,300.7 459.2,302.2" fill="#c09626" />
<polygon points="432.2,276.4 459.2,299.2 464.2,297.7 437.2,274.9" fill="#f2ca4c" stroke="#d8ac2c" stroke-width="0.4"/>
<line x1="437.2" y1="274.9" x2="464.2" y2="297.7" stroke="#fae49a" stroke-width="0.9"/>
<polygon points="347.7,296.2 383.8,325.4 383.8,328.6 347.7,299.4" fill="#a88418" />
<polygon points="383.8,325.4 397.7,320.7 397.7,323.9 383.8,328.6" fill="#8a6a10" />
<polygon points="347.7,296.2 383.8,325.4 397.7,320.7 361.6,291.5" fill="#ebbc2c" />
<polygon points="434.6,271.5 470,300.8 470,304 434.6,274.7" fill="#a88418" />
<polygon points="470,300.8 484.6,296.2 484.6,299.4 470,304" fill="#8a6a10" />
<polygon points="434.6,271.5 470,300.8 484.6,296.2 449.2,266.9" fill="#ebbc2c" />
<text x="0" y="0" font-family="'Liberation Sans',sans-serif" font-size="9.5" fill="#2a2210" font-weight="bold" text-anchor="middle" transform="translate(372.6,307.6) rotate(40)">Drain</text>
<text x="0" y="0" font-family="'Liberation Sans',sans-serif" font-size="9.5" fill="#4a3c28" font-weight="bold" text-anchor="middle" transform="translate(458.6,285.6) rotate(41)">Source</text>
<text x="0" y="0" font-family="'Liberation Sans',sans-serif" font-size="9" fill="#ffffff" font-weight="normal" text-anchor="middle" transform="translate(430.5,327.5) rotate(-16.3)">SiC</text>
<text x="373.5" y="291.3" font-family="'Liberation Sans',sans-serif" font-size="9.5" fill="#111" font-weight="bold" text-anchor="middle" stroke="#fff" stroke-width="1.8" paint-order="stroke">G2</text>
<text x="460.6" y="303.5" font-family="'Liberation Sans',sans-serif" font-size="9.5" fill="#111" font-weight="bold" text-anchor="middle" stroke="#fff" stroke-width="1.8" paint-order="stroke">G1</text>
<circle cx="479" cy="330" r="1.3" fill="#5a5a62"/>
<circle cx="476.74" cy="333.52" r="1.3" fill="#5a5a62"/>
<circle cx="471.66" cy="334.39" r="1.3" fill="#5a5a62"/>
<circle cx="467.59" cy="331.95" r="1.3" fill="#5a5a62"/>
<circle cx="467.59" cy="328.05" r="1.3" fill="#5a5a62"/>
<circle cx="471.66" cy="325.61" r="1.3" fill="#5a5a62"/>
<circle cx="476.74" cy="326.48" r="1.3" fill="#5a5a62"/>
<text x="449.6" y="347.1" font-family="'Liberation Sans',sans-serif" font-size="12.5" fill="#c8182c" font-weight="bold" text-anchor="middle" textLength="73.6" lengthAdjust="spacingAndGlyphs">Epi-Graphene</text>
<circle cx="225" cy="198.9" r="3.3" fill="#c88a55"/>
<circle cx="225" cy="198.9" r="1.815" fill="#5a3520"/>
<circle cx="225" cy="214.3" r="3.3" fill="#9ab890"/>
<circle cx="225" cy="214.3" r="1.815" fill="#2e4a26"/>
<circle cx="225" cy="228.6" r="3.4" fill="#d81cb4"/>
<circle cx="224.7" cy="228.3" r="1.3" fill="#f6b8ea"/>
<text x="234.2" y="202.8" font-family="'Liberation Sans',sans-serif" font-size="11" fill="#2a2a2a" font-weight="normal" text-anchor="start" textLength="63.5" lengthAdjust="spacingAndGlyphs">Hot electron</text>
<text x="234.2" y="218.2" font-family="'Liberation Sans',sans-serif" font-size="11" fill="#2a2a2a" font-weight="normal" text-anchor="start" textLength="140.5" lengthAdjust="spacingAndGlyphs">Quasi-equilibrated electron</text>
<text x="234.2" y="232.8" font-family="'Liberation Sans',sans-serif" font-size="11" fill="#2a2a2a" font-weight="normal" text-anchor="start" textLength="84.6" lengthAdjust="spacingAndGlyphs">Displaced carrier</text>
<path d="M110.38 366.8 v-3 M110.38 33.5 v3 M138.05 366.8 v-5 M138.05 33.5 v5 M165.73 366.8 v-3 M165.73 33.5 v3 M193.4 366.8 v-5 M193.4 33.5 v5 M221.07 366.8 v-3 M221.07 33.5 v3 M248.75 366.8 v-5 M248.75 33.5 v5 M276.43 366.8 v-3 M276.43 33.5 v3 M304.1 366.8 v-5 M304.1 33.5 v5 M331.78 366.8 v-3 M331.78 33.5 v3 M359.45 366.8 v-5 M359.45 33.5 v5 M387.12 366.8 v-3 M387.12 33.5 v3 M414.8 366.8 v-5 M414.8 33.5 v5 M442.48 366.8 v-3 M442.48 33.5 v3 M470.15 366.8 v-5 M470.15 33.5 v5 M82.8 333.65 h3 M497.9 333.65 h-3 M82.8 300.3 h5 M497.9 300.3 h-5 M82.8 266.95 h3 M497.9 266.95 h-3 M82.8 233.6 h5 M497.9 233.6 h-5 M82.8 200.25 h3 M497.9 200.25 h-3 M82.8 166.9 h5 M497.9 166.9 h-5 M82.8 133.55 h3 M497.9 133.55 h-3 M82.8 100.2 h5 M497.9 100.2 h-5 M82.8 66.85 h3 M497.9 66.85 h-3" stroke="#000" stroke-width="1.6" fill="none"/>
<rect x="82.8" y="33.5" width="415.1" height="333.3" fill="none" stroke="#000" stroke-width="2"/>
<text transform="translate(82.7,397.9) scale(0.86,1)" font-family="'Liberation Sans',sans-serif" font-size="29.5" fill="#000" stroke="#000" stroke-width="0.35" text-anchor="middle">−20</text>
<text transform="translate(138.05,397.9) scale(0.86,1)" font-family="'Liberation Sans',sans-serif" font-size="29.5" fill="#000" stroke="#000" stroke-width="0.35" text-anchor="middle">−15</text>
<text transform="translate(193.4,397.9) scale(0.86,1)" font-family="'Liberation Sans',sans-serif" font-size="29.5" fill="#000" stroke="#000" stroke-width="0.35" text-anchor="middle">−10</text>
<text transform="translate(248.75,397.9) scale(0.86,1)" font-family="'Liberation Sans',sans-serif" font-size="29.5" fill="#000" stroke="#000" stroke-width="0.35" text-anchor="middle">−5</text>
<text transform="translate(304.1,397.9) scale(0.86,1)" font-family="'Liberation Sans',sans-serif" font-size="29.5" fill="#000" stroke="#000" stroke-width="0.35" text-anchor="middle">0</text>
<text transform="translate(359.45,397.9) scale(0.86,1)" font-family="'Liberation Sans',sans-serif" font-size="29.5" fill="#000" stroke="#000" stroke-width="0.35" text-anchor="middle">5</text>
<text transform="translate(414.8,397.9) scale(0.86,1)" font-family="'Liberation Sans',sans-serif" font-size="29.5" fill="#000" stroke="#000" stroke-width="0.35" text-anchor="middle">10</text>
<text transform="translate(470.15,397.9) scale(0.86,1)" font-family="'Liberation Sans',sans-serif" font-size="29.5" fill="#000" stroke="#000" stroke-width="0.35" text-anchor="middle">15</text>
<text transform="translate(75.6,376.9) scale(0.86,1)" font-family="'Liberation Sans',sans-serif" font-size="29.5" fill="#000" stroke="#000" stroke-width="0.35" text-anchor="end">0</text>
<text transform="translate(75.6,310.2) scale(0.86,1)" font-family="'Liberation Sans',sans-serif" font-size="29.5" fill="#000" stroke="#000" stroke-width="0.35" text-anchor="end">20</text>
<text transform="translate(75.6,243.5) scale(0.86,1)" font-family="'Liberation Sans',sans-serif" font-size="29.5" fill="#000" stroke="#000" stroke-width="0.35" text-anchor="end">40</text>
<text transform="translate(75.6,176.8) scale(0.86,1)" font-family="'Liberation Sans',sans-serif" font-size="29.5" fill="#000" stroke="#000" stroke-width="0.35" text-anchor="end">60</text>
<text transform="translate(75.6,110.1) scale(0.86,1)" font-family="'Liberation Sans',sans-serif" font-size="29.5" fill="#000" stroke="#000" stroke-width="0.35" text-anchor="end">80</text>
<text transform="translate(75.6,43.4) scale(0.86,1)" font-family="'Liberation Sans',sans-serif" font-size="29.5" fill="#000" stroke="#000" stroke-width="0.35" text-anchor="end">100</text>
<text transform="translate(32,348) rotate(-90)" font-family="'Liberation Sans',sans-serif" font-size="36" fill="#000" stroke="#000" stroke-width="0.3" textLength="297" lengthAdjust="spacingAndGlyphs">Photovoltage (mV)</text>
<text x="234.6" y="431.3" font-family="'Liberation Sans',sans-serif" font-size="36.5" fill="#000" stroke="#000" stroke-width="0.3">V</text>
<text transform="translate(258.4,434.6) scale(1.12,1)" font-family="'Liberation Serif',serif" font-size="25" fill="#000" stroke="#000" stroke-width="0.25">g</text>
<text x="272" y="437.9" font-family="'Liberation Sans',sans-serif" font-size="29.5" fill="#000" stroke="#000" stroke-width="0.3">2</text>
<text transform="translate(297.2,426.4) scale(1.25,1)" font-family="'Liberation Sans',sans-serif" font-size="33" fill="#000">(</text>
<text x="310" y="430.9" font-family="'Liberation Sans',sans-serif" font-size="36" fill="#000" stroke="#000" stroke-width="0.3">V</text>
<text transform="translate(334.2,426.4) scale(1.25,1)" font-family="'Liberation Sans',sans-serif" font-size="33" fill="#000">)</text>
<text x="392.5" y="24.2" font-family="'Liberation Sans',sans-serif" font-size="18.3" fill="#c0272d" font-weight="normal" text-anchor="start" textLength="98.5" lengthAdjust="spacingAndGlyphs">50-Ω loaded</text>
<rect x="129.8" y="45.6" width="150.2" height="114.3" fill="#ece7e3" fill-opacity="0.5" stroke="#707070" stroke-width="1"/>
<path d="M133.2 159.9 v-2.2 M154.2 159.9 v-2.2 M175.2 159.9 v-2.2 M196.2 159.9 v-2.2 M217.2 159.9 v-2.2 M238.2 159.9 v-2.2 M259.2 159.9 v-2.2 M129.8 123.7 h2.2 M129.8 97.8 h2.2 M129.8 71.9 h2.2" stroke="#666" stroke-width="0.8"/>
<text x="154.2" y="172.2" font-family="'Liberation Sans',sans-serif" font-size="11.4" fill="#111" font-weight="normal" text-anchor="middle" stroke="#111" stroke-width="0.15">0.0</text>
<text x="196.2" y="172.2" font-family="'Liberation Sans',sans-serif" font-size="11.4" fill="#111" font-weight="normal" text-anchor="middle" stroke="#111" stroke-width="0.15">0.5</text>
<text x="238.2" y="172.2" font-family="'Liberation Sans',sans-serif" font-size="11.4" fill="#111" font-weight="normal" text-anchor="middle" stroke="#111" stroke-width="0.15">1.0</text>
<text x="280.2" y="172.2" font-family="'Liberation Sans',sans-serif" font-size="11.4" fill="#111" font-weight="normal" text-anchor="middle" stroke="#111" stroke-width="0.15">1.5</text>
<text x="127.4" y="153.8" font-family="'Liberation Sans',sans-serif" font-size="11.8" fill="#111" font-weight="normal" text-anchor="end" stroke="#111" stroke-width="0.15">0</text>
<text x="127.4" y="102" font-family="'Liberation Sans',sans-serif" font-size="11.8" fill="#111" font-weight="normal" text-anchor="end" stroke="#111" stroke-width="0.15">50</text>
<text x="127.4" y="50.2" font-family="'Liberation Sans',sans-serif" font-size="11.8" fill="#111" font-weight="normal" text-anchor="end" stroke="#111" stroke-width="0.15">100</text>
<text x="210.2" y="186.9" font-family="'Liberation Sans',sans-serif" font-size="11.6" fill="#111" font-weight="normal" text-anchor="middle" textLength="48" lengthAdjust="spacingAndGlyphs">Time (ns)</text>
<text x="0" y="0" font-family="'Liberation Sans',sans-serif" font-size="12" fill="#111" font-weight="normal" text-anchor="start" transform="translate(103.8,150.5) rotate(-90)" textLength="95" lengthAdjust="spacingAndGlyphs">Photovoltage (mV)</text>
<path d="M145 150.01 C145.27 149.99 146.05 150.61 146.6 149.86 C147.15 149.11 147.82 147.98 148.3 145.5 C148.78 143.02 149.05 138.42 149.5 135 C149.95 131.58 150.48 128.02 151 125 C151.52 121.98 152.02 119.57 152.6 116.9 C153.18 114.23 153.77 111.07 154.5 109 C155.23 106.93 156.02 105.47 157 104.5 C157.98 103.53 159.4 102.95 160.4 103.2 C161.4 103.45 162.23 104.78 163 106 C163.77 107.22 164.3 108.68 165 110.5 C165.7 112.32 166.55 114.48 167.2 116.9 C167.85 119.32 168.3 121.98 168.9 125 C169.5 128.02 170.12 132.5 170.8 135 C171.48 137.5 172.08 138.62 173 140 C173.92 141.38 175.3 142.33 176.3 143.3 C177.3 144.27 177.95 145.05 179 145.8 C180.05 146.55 181.43 147.22 182.6 147.8 C183.77 148.38 185.1 148.75 186 149.3 C186.9 149.85 187.4 150.82 188 151.08 C188.6 151.33 189.07 150.97 189.6 150.83 C190.13 150.68 190.67 150.16 191.2 150.2 C191.73 150.24 192.27 151.06 192.8 151.06 C193.33 151.06 193.87 150.3 194.4 150.2 C194.93 150.11 195.47 150.34 196 150.48 C196.53 150.63 197.07 151.02 197.6 151.08 C198.13 151.15 198.67 150.94 199.2 150.89 C199.73 150.85 200.27 150.89 200.8 150.83 C201.33 150.77 201.87 150.62 202.4 150.53 C202.93 150.45 203.47 150.26 204 150.3 C204.53 150.33 205.07 150.75 205.6 150.74 C206.13 150.72 206.67 150.28 207.2 150.21 C207.73 150.13 208.27 150.26 208.8 150.31 C209.33 150.35 209.87 150.52 210.4 150.49 C210.93 150.46 211.47 150.13 212 150.13 C212.53 150.14 213.07 150.37 213.6 150.5 C214.13 150.63 214.67 150.84 215.2 150.89 C215.73 150.94 216.27 150.84 216.8 150.79 C217.33 150.75 217.87 150.61 218.4 150.6 C218.93 150.59 219.47 150.74 220 150.73 C220.53 150.73 221.07 150.65 221.6 150.56 C222.13 150.48 222.67 150.22 223.2 150.24 C223.73 150.27 224.27 150.66 224.8 150.7 C225.33 150.75 225.87 150.48 226.4 150.5 C226.93 150.53 227.47 150.76 228 150.84 C228.53 150.92 229.07 151.06 229.6 151.01 C230.13 150.96 230.67 150.59 231.2 150.53 C231.73 150.47 232.27 150.62 232.8 150.67 C233.33 150.73 233.87 150.87 234.4 150.85 C234.93 150.82 235.47 150.61 236 150.52 C236.53 150.43 237.07 150.28 237.6 150.33 C238.13 150.38 238.67 150.71 239.2 150.82 C239.73 150.93 240.27 150.97 240.8 150.98 C241.33 150.99 241.87 150.9 242.4 150.87 C242.93 150.84 243.47 150.79 244 150.8 C244.53 150.81 245.07 150.96 245.6 150.95 C246.13 150.95 246.67 150.81 247.2 150.78 C247.73 150.74 248.27 150.78 248.8 150.74 C249.33 150.7 249.87 150.61 250.4 150.55 C250.93 150.5 251.47 150.38 252 150.41 C252.53 150.44 253.07 150.76 253.6 150.73 C254.13 150.69 254.67 150.23 255.2 150.2 C255.73 150.16 256.27 150.41 256.8 150.52 C257.33 150.63 257.87 150.83 258.4 150.88 C258.93 150.93 259.47 150.84 260 150.81 C260.53 150.79 261.07 150.81 261.6 150.73 C262.13 150.65 262.67 150.38 263.2 150.35 C263.73 150.32 264.27 150.49 264.8 150.52 C265.33 150.56 265.87 150.52 266.4 150.56 C266.93 150.59 267.47 150.73 268 150.72 C268.53 150.71 269.07 150.5 269.6 150.51 C270.13 150.52 270.67 150.69 271.2 150.78 C271.73 150.86 272.27 151.11 272.8 151.03 C273.33 150.95 273.87 150.33 274.4 150.28 C274.93 150.24 275.47 150.66 276 150.75 C276.53 150.85 277.07 150.92 277.6 150.88 C278.13 150.83 278.93 150.55 279.2 150.49" fill="none" stroke="#1a22c8" stroke-width="1.9" stroke-linejoin="round"/>
<path d="M130.3 149.97 C130.57 150.07 131.37 150.45 131.9 150.59 C132.43 150.73 132.97 150.96 133.5 150.83 C134.03 150.69 134.57 149.84 135.1 149.75 C135.63 149.67 136.17 150.2 136.7 150.29 C137.23 150.38 137.77 150.23 138.3 150.29 C138.83 150.35 139.37 150.68 139.9 150.63 C140.43 150.57 140.97 150.01 141.5 149.95 C142.03 149.9 142.47 150.39 143.1 150.29 C143.73 150.2 144.68 150.03 145.3 149.4 C145.92 148.77 146.35 148.9 146.8 146.5 C147.25 144.1 147.53 139.75 148 135 C148.47 130.25 149.05 124.07 149.6 118 C150.15 111.93 150.75 104.27 151.3 98.6 C151.85 92.93 152.38 88.55 152.9 84 C153.42 79.45 153.72 75.47 154.4 71.3 C155.08 67.13 156 61.88 157 59 C158 56.12 159.32 53.83 160.4 54 C161.48 54.17 162.68 57.12 163.5 60 C164.32 62.88 164.73 66.97 165.3 71.3 C165.87 75.63 166.38 81.45 166.9 86 C167.42 90.55 167.88 94.1 168.4 98.6 C168.92 103.1 169.45 108.43 170 113 C170.55 117.57 171.07 122.25 171.7 126 C172.33 129.75 173.03 133.08 173.8 135.5 C174.57 137.92 175.43 139 176.3 140.5 C177.17 142 177.97 143.35 179 144.5 C180.03 145.65 181.33 146.67 182.5 147.4 C183.67 148.13 185.07 148.51 186 148.9 C186.93 149.29 187.48 149.48 188.1 149.72 C188.72 149.95 189.17 150.32 189.7 150.3 C190.23 150.28 190.77 149.59 191.3 149.61 C191.83 149.64 192.37 150.43 192.9 150.43 C193.43 150.44 193.97 149.79 194.5 149.64 C195.03 149.49 195.57 149.47 196.1 149.56 C196.63 149.64 197.17 150.08 197.7 150.14 C198.23 150.2 198.77 150.02 199.3 149.9 C199.83 149.78 200.37 149.4 200.9 149.43 C201.43 149.46 201.97 150.07 202.5 150.06 C203.03 150.06 203.57 149.37 204.1 149.4 C204.63 149.43 205.17 150.12 205.7 150.25 C206.23 150.37 206.77 150.14 207.3 150.14 C207.83 150.14 208.37 150.26 208.9 150.24 C209.43 150.23 209.97 150.14 210.5 150.05 C211.03 149.97 211.57 149.77 212.1 149.73 C212.63 149.68 213.17 149.77 213.7 149.78 C214.23 149.79 214.77 149.68 215.3 149.77 C215.83 149.87 216.37 150.43 216.9 150.37 C217.43 150.31 217.97 149.4 218.5 149.4 C219.03 149.4 219.57 150.38 220.1 150.37 C220.63 150.35 221.17 149.47 221.7 149.33 C222.23 149.19 222.77 149.5 223.3 149.55 C223.83 149.59 224.37 149.48 224.9 149.62 C225.43 149.75 225.97 150.33 226.5 150.38 C227.03 150.43 227.57 150.01 228.1 149.9 C228.63 149.8 229.17 149.68 229.7 149.76 C230.23 149.83 230.77 150.39 231.3 150.36 C231.83 150.33 232.37 149.66 232.9 149.58 C233.43 149.5 233.97 149.79 234.5 149.85 C235.03 149.91 235.57 149.88 236.1 149.94 C236.63 150 237.17 150.16 237.7 150.21 C238.23 150.25 238.77 150.23 239.3 150.2 C239.83 150.18 240.37 150.16 240.9 150.08 C241.43 149.99 241.97 149.78 242.5 149.72 C243.03 149.65 243.57 149.73 244.1 149.69 C244.63 149.65 245.17 149.38 245.7 149.49 C246.23 149.59 246.77 150.21 247.3 150.31 C247.83 150.41 248.37 150.11 248.9 150.09 C249.43 150.07 249.97 150.29 250.5 150.19 C251.03 150.09 251.57 149.56 252.1 149.5 C252.63 149.44 253.17 149.71 253.7 149.83 C254.23 149.95 254.77 150.2 255.3 150.23 C255.83 150.26 256.37 150.12 256.9 150 C257.43 149.87 257.97 149.47 258.5 149.45 C259.03 149.43 259.57 149.7 260.1 149.85 C260.63 150.01 261.17 150.41 261.7 150.36 C262.23 150.32 262.77 149.72 263.3 149.59 C263.83 149.45 264.37 149.52 264.9 149.53 C265.43 149.54 265.97 149.56 266.5 149.66 C267.03 149.76 267.57 150.04 268.1 150.14 C268.63 150.25 269.17 150.42 269.7 150.31 C270.23 150.2 270.77 149.62 271.3 149.49 C271.83 149.35 272.37 149.47 272.9 149.49 C273.43 149.51 273.97 149.56 274.5 149.6 C275.03 149.63 275.57 149.64 276.1 149.69 C276.63 149.75 277.17 149.96 277.7 149.93 C278.23 149.89 279.03 149.57 279.3 149.49" fill="none" stroke="#df8638" stroke-width="1.9" stroke-linejoin="round"/>
<line x1="175.2" y1="54.4" x2="195.6" y2="54.4" stroke="#df8638" stroke-width="2"/>
<line x1="175.2" y1="74.8" x2="195.6" y2="74.8" stroke="#1a22c8" stroke-width="2"/>
<text x="196.8" y="57.9" font-family="'Liberation Sans',sans-serif" font-size="8.95" fill="#222">V<tspan font-size="6.44" dy="2.24">g2</tspan><tspan dy="-2.24"> = 15 V</tspan></text>
<text x="196.8" y="77.9" font-family="'Liberation Sans',sans-serif" font-size="8.95" fill="#222">V<tspan font-size="6.44" dy="2.24">g2</tspan><tspan dy="-2.24"> = −15.5 V</tspan></text>
<rect x="229.7" y="109.5" width="43.3" height="34.9" fill="#efebe7" stroke="#9a9a9a" stroke-width="0.8"/>
<text x="231" y="118.3" font-family="'Liberation Sans',sans-serif" font-size="8.8" fill="#222">V<tspan font-size="6.34" dy="2.2">g1</tspan><tspan dy="-2.2"> = 15 V</tspan></text>
<text x="231" y="129.8" font-family="'Liberation Sans',sans-serif" font-size="8.8" fill="#222">V<tspan font-size="6.34" dy="2.2">ds</tspan><tspan dy="-2.2"> = 1 V</tspan></text>
<text x="231" y="141.3" font-family="'Liberation Sans',sans-serif" font-size="8.8" fill="#222" font-weight="normal" text-anchor="start" >@300 K</text>
<polyline points="133,214.8 193,138.5 248.5,94.8 303.9,89.7 359.3,80.2 414.8,63.8 471,60.8" fill="none" stroke="#000" stroke-width="2"/>
<circle cx="193" cy="138.5" r="7.8" fill="#000"/>
<circle cx="248.5" cy="94.8" r="7.8" fill="#000"/>
<circle cx="303.9" cy="89.7" r="7.8" fill="#000"/>
<circle cx="359.3" cy="80.2" r="7.8" fill="#000"/>
<circle cx="414.8" cy="63.8" r="7.8" fill="#000"/>
<circle cx="133" cy="214.8" r="12" fill="#fff" opacity="0.9" filter="url(#halo)"/>
<circle cx="133" cy="214.8" r="9.9" fill="#0a14e6"/>
<circle cx="471" cy="58.1" r="12" fill="#fff" opacity="0.9" filter="url(#halo)"/>
<circle cx="471" cy="58.1" r="9.9" fill="#e67e22"/>
<text x="272" y="472.2" font-family="'Liberation Serif',serif" font-size="25" fill="#111" font-weight="normal" text-anchor="middle" >(a)</text>
<ellipse cx="116.6" cy="555.3" rx="113.3" ry="71.5" transform="rotate(2.2 116.6 555.3)" fill="#bccee9"/>
<rect x="56.5" y="503.4" width="138.8" height="87.4" fill="#bfd0ea" stroke="#8c9cb8" stroke-width="1"/>
<text x="70.9" y="604.8" font-family="'Liberation Sans',sans-serif" font-size="12.4" fill="#222" font-weight="normal" text-anchor="middle" >−20</text>
<text x="102.1" y="604.8" font-family="'Liberation Sans',sans-serif" font-size="12.4" fill="#222" font-weight="normal" text-anchor="middle" >−10</text>
<text x="133.3" y="604.8" font-family="'Liberation Sans',sans-serif" font-size="12.4" fill="#222" font-weight="normal" text-anchor="middle" >0</text>
<text x="164.5" y="604.8" font-family="'Liberation Sans',sans-serif" font-size="12.4" fill="#222" font-weight="normal" text-anchor="middle" >10</text>
<text x="195.7" y="604.8" font-family="'Liberation Sans',sans-serif" font-size="12.4" fill="#222" font-weight="normal" text-anchor="middle" >20</text>
<text x="55.7" y="587.7" font-family="'Liberation Sans',sans-serif" font-size="11.8" fill="#222" font-weight="normal" text-anchor="end" textLength="16" lengthAdjust="spacingAndGlyphs">2.8</text>
<text x="55.7" y="571.76" font-family="'Liberation Sans',sans-serif" font-size="11.8" fill="#222" font-weight="normal" text-anchor="end" textLength="16" lengthAdjust="spacingAndGlyphs">3.0</text>
<text x="55.7" y="555.82" font-family="'Liberation Sans',sans-serif" font-size="11.8" fill="#222" font-weight="normal" text-anchor="end" textLength="16" lengthAdjust="spacingAndGlyphs">3.2</text>
<text x="55.7" y="539.88" font-family="'Liberation Sans',sans-serif" font-size="11.8" fill="#222" font-weight="normal" text-anchor="end" textLength="16" lengthAdjust="spacingAndGlyphs">3.4</text>
<text x="55.7" y="523.94" font-family="'Liberation Sans',sans-serif" font-size="11.8" fill="#222" font-weight="normal" text-anchor="end" textLength="16" lengthAdjust="spacingAndGlyphs">3.6</text>
<text x="55.7" y="508" font-family="'Liberation Sans',sans-serif" font-size="11.8" fill="#222" font-weight="normal" text-anchor="end" textLength="16" lengthAdjust="spacingAndGlyphs">3.8</text>
<path d="M71.25 570.5 C73.12 571.25 78.75 573.75 82.5 575 C86.25 576.25 91.25 578.62 93.75 578 C96.25 577.38 96.25 574.04 97.5 571.25 C98.75 568.46 100 564.58 101.25 561.25 C102.5 557.92 103.54 554.38 105 551.25 C106.46 548.12 108.12 545.21 110 542.5 C111.88 539.79 113.75 537.29 116.25 535 C118.75 532.71 121.88 530.5 125 528.75 C128.12 527 131.25 525.83 135 524.5 C138.75 523.17 143.33 521.83 147.5 520.75 C151.67 519.67 154.79 518.88 160 518 C165.21 517.12 175.62 515.92 178.75 515.5" fill="none" stroke="#000" stroke-width="3.4" stroke-linecap="round" stroke-linejoin="round"/>
<rect x="61.9" y="508.9" width="50.8" height="19.1" fill="#fff"/>
<text x="63.4" y="523.5" font-family="'Liberation Sans',sans-serif" font-size="13.4" fill="#111" font-weight="normal" text-anchor="start" textLength="48.6" lengthAdjust="spacingAndGlyphs">@300 K</text>
<rect x="114.8" y="561" width="77.4" height="25.1" fill="#fff"/>
<text x="116.5" y="578.4" font-family="'Liberation Sans',sans-serif" font-size="17" fill="#111" font-weight="normal" text-anchor="start" >V</text>
<text x="128.4" y="581.8" font-family="'Liberation Sans',sans-serif" font-size="13" fill="#111" font-weight="normal" text-anchor="start" >ds</text>
<text x="146.8" y="578.4" font-family="'Liberation Sans',sans-serif" font-size="17" fill="#111" font-weight="normal" text-anchor="start" >=</text>
<text x="164.2" y="578.4" font-family="'Liberation Sans',sans-serif" font-size="17" fill="#111" font-weight="normal" text-anchor="start" >1</text>
<text x="178.6" y="578.4" font-family="'Liberation Sans',sans-serif" font-size="17" fill="#111" font-weight="normal" text-anchor="start" >V</text>
<text transform="translate(35,566) rotate(-90)" font-family="'Liberation Sans',sans-serif" font-size="16.5" fill="#222">I<tspan font-size="12" dy="3.6">d</tspan><tspan dy="-3.6" x="14">(mA)</tspan></text>
<text x="85.6" y="620.3" font-family="'Liberation Sans',sans-serif" font-size="14" fill="#222">V<tspan font-size="10.5" dy="4.2">g1</tspan><tspan dy="-4.2">,</tspan></text>
<text x="117.9" y="620.3" font-family="'Liberation Sans',sans-serif" font-size="14" fill="#222">V<tspan font-size="10.5" dy="4.2">g2</tspan></text>
<text x="144.6" y="620.3" font-family="'Liberation Sans',sans-serif" font-size="14" fill="#222" font-weight="normal" text-anchor="start" textLength="22" lengthAdjust="spacingAndGlyphs">(V)</text>
<text x="119.1" y="493" font-family="'Liberation Sans',sans-serif" font-size="20.1" font-weight="bold" text-anchor="middle"><tspan fill="#6e3fae">depleted</tspan><tspan fill="#222">/</tspan><tspan fill="#d4161c">doped</tspan></text>
<circle cx="93.6" cy="578.2" r="5.6" fill="#6e3fae"/>
<circle cx="179.3" cy="515.8" r="5.6" fill="#d4161c"/>
<text x="80.8" y="563.8" font-family="'Liberation Sans',sans-serif" font-size="19" fill="#6e3fae" font-weight="bold" text-anchor="middle" >G2</text>
<text x="177.4" y="541.3" font-family="'Liberation Sans',sans-serif" font-size="19" fill="#d4161c" font-weight="bold" text-anchor="middle" >G1</text>
<ellipse cx="405.6" cy="555.5" rx="113.4" ry="73" transform="rotate(-2.1 405.6 555.5)" fill="#eec592"/>
<rect x="347.3" y="503.4" width="138.8" height="87.4" fill="#eec898" stroke="#a8917a" stroke-width="1"/>
<text x="361.7" y="604.8" font-family="'Liberation Sans',sans-serif" font-size="12.4" fill="#222" font-weight="normal" text-anchor="middle" >−20</text>
<text x="392.9" y="604.8" font-family="'Liberation Sans',sans-serif" font-size="12.4" fill="#222" font-weight="normal" text-anchor="middle" >−10</text>
<text x="424.1" y="604.8" font-family="'Liberation Sans',sans-serif" font-size="12.4" fill="#222" font-weight="normal" text-anchor="middle" >0</text>
<text x="455.3" y="604.8" font-family="'Liberation Sans',sans-serif" font-size="12.4" fill="#222" font-weight="normal" text-anchor="middle" >10</text>
<text x="486.5" y="604.8" font-family="'Liberation Sans',sans-serif" font-size="12.4" fill="#222" font-weight="normal" text-anchor="middle" >20</text>
<text x="346.5" y="587.7" font-family="'Liberation Sans',sans-serif" font-size="11.8" fill="#222" font-weight="normal" text-anchor="end" textLength="16" lengthAdjust="spacingAndGlyphs">2.8</text>
<text x="346.5" y="571.76" font-family="'Liberation Sans',sans-serif" font-size="11.8" fill="#222" font-weight="normal" text-anchor="end" textLength="16" lengthAdjust="spacingAndGlyphs">3.0</text>
<text x="346.5" y="555.82" font-family="'Liberation Sans',sans-serif" font-size="11.8" fill="#222" font-weight="normal" text-anchor="end" textLength="16" lengthAdjust="spacingAndGlyphs">3.2</text>
<text x="346.5" y="539.88" font-family="'Liberation Sans',sans-serif" font-size="11.8" fill="#222" font-weight="normal" text-anchor="end" textLength="16" lengthAdjust="spacingAndGlyphs">3.4</text>
<text x="346.5" y="523.94" font-family="'Liberation Sans',sans-serif" font-size="11.8" fill="#222" font-weight="normal" text-anchor="end" textLength="16" lengthAdjust="spacingAndGlyphs">3.6</text>
<text x="346.5" y="508" font-family="'Liberation Sans',sans-serif" font-size="11.8" fill="#222" font-weight="normal" text-anchor="end" textLength="16" lengthAdjust="spacingAndGlyphs">3.8</text>
<path d="M362.1 569.1 C363.67 569.87 368.35 572.35 371.5 573.7 C374.65 575.05 378.53 576.9 381 577.2 C383.47 577.5 384.73 576.77 386.3 575.5 C387.87 574.23 389.05 572.37 390.4 569.6 C391.75 566.83 393.05 562.27 394.4 558.9 C395.75 555.53 396.93 552.55 398.5 549.4 C400.07 546.25 401.57 542.92 403.8 540 C406.03 537.08 408.75 534.37 411.9 531.9 C415.05 529.43 418.65 527.08 422.7 525.2 C426.75 523.32 431.27 521.95 436.2 520.6 C441.13 519.25 446.47 517.9 452.3 517.1 C458.13 516.3 468.05 516.02 471.2 515.8" fill="none" stroke="#000" stroke-width="3.4" stroke-linecap="round" stroke-linejoin="round"/>
<rect x="352.7" y="508.9" width="50.8" height="19.1" fill="#fff"/>
<text x="354.2" y="523.5" font-family="'Liberation Sans',sans-serif" font-size="13.4" fill="#111" font-weight="normal" text-anchor="start" textLength="48.6" lengthAdjust="spacingAndGlyphs">@300 K</text>
<rect x="405.6" y="561" width="77.4" height="25.1" fill="#fff"/>
<text x="407.3" y="578.4" font-family="'Liberation Sans',sans-serif" font-size="17" fill="#111" font-weight="normal" text-anchor="start" >V</text>
<text x="419.2" y="581.8" font-family="'Liberation Sans',sans-serif" font-size="13" fill="#111" font-weight="normal" text-anchor="start" >ds</text>
<text x="437.6" y="578.4" font-family="'Liberation Sans',sans-serif" font-size="17" fill="#111" font-weight="normal" text-anchor="start" >=</text>
<text x="455" y="578.4" font-family="'Liberation Sans',sans-serif" font-size="17" fill="#111" font-weight="normal" text-anchor="start" >1</text>
<text x="469.4" y="578.4" font-family="'Liberation Sans',sans-serif" font-size="17" fill="#111" font-weight="normal" text-anchor="start" >V</text>
<text transform="translate(325.8,566) rotate(-90)" font-family="'Liberation Sans',sans-serif" font-size="16.5" fill="#222">I<tspan font-size="12" dy="3.6">d</tspan><tspan dy="-3.6" x="14">(mA)</tspan></text>
<text x="376.4" y="620.3" font-family="'Liberation Sans',sans-serif" font-size="14" fill="#222">V<tspan font-size="10.5" dy="4.2">g1</tspan><tspan dy="-4.2">,</tspan></text>
<text x="408.7" y="620.3" font-family="'Liberation Sans',sans-serif" font-size="14" fill="#222">V<tspan font-size="10.5" dy="4.2">g2</tspan></text>
<text x="435.4" y="620.3" font-family="'Liberation Sans',sans-serif" font-size="14" fill="#222" font-weight="normal" text-anchor="start" textLength="22" lengthAdjust="spacingAndGlyphs">(V)</text>
<text x="406.5" y="493" font-family="'Liberation Sans',sans-serif" font-size="20.1" font-weight="bold" text-anchor="middle"><tspan fill="#6e3fae">doped</tspan><tspan fill="#222">/</tspan><tspan fill="#d4161c">doped</tspan></text>
<circle cx="474.6" cy="515.8" r="5.6" fill="#d4161c"/>
<circle cx="471.2" cy="515.8" r="5.6" fill="#6e3fae"/>
<text x="442.9" y="539.6" font-family="'Liberation Sans',sans-serif" font-size="19" font-weight="bold"><tspan fill="#6e3fae">G2</tspan><tspan fill="#222">, </tspan><tspan fill="#d4161c">G1</tspan></text>
<path d="M242.3 535 H261.8 V526.5 L279.7 543.8 L261.8 561.2 V553 H242.3Z" fill="#000"/>
<text x="115.1" y="654.2" font-family="'Liberation Serif',serif" font-size="25" fill="#111" font-weight="normal" text-anchor="middle" >(b)</text>
<text x="410.9" y="654.2" font-family="'Liberation Serif',serif" font-size="25" fill="#111" font-weight="normal" text-anchor="middle" >(c)</text>
</svg></body></html>
